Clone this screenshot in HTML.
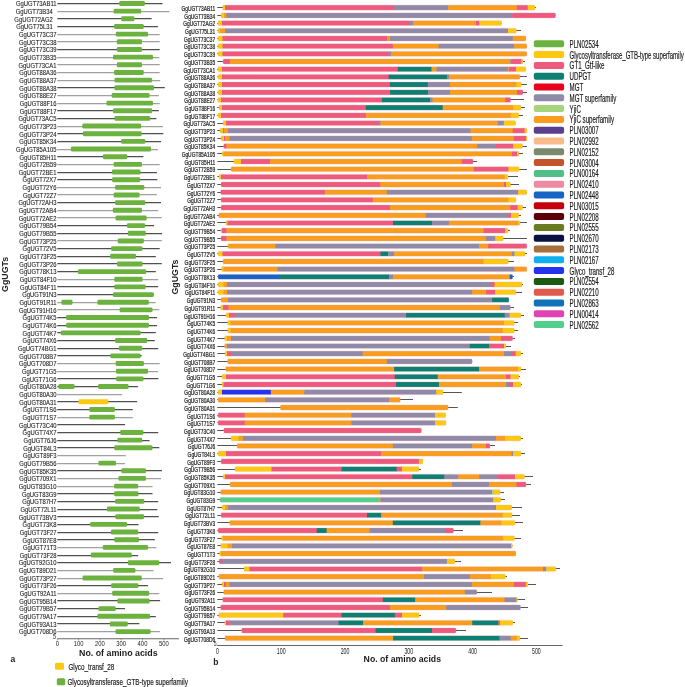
<!DOCTYPE html><html><head><meta charset="utf-8"><style>html,body{margin:0;padding:0;background:#fff}svg{display:block}</style></head><body>
<svg width="685" height="687" viewBox="0 0 685 687" font-family="'Liberation Sans', Arial, sans-serif">
<g id="left">
<line x1="57.3" y1="3.5" x2="162.5" y2="3.5" stroke="#505050" stroke-width="1.25"/>
<line x1="57.3" y1="11.5" x2="169.4" y2="11.5" stroke="#a0a0a0" stroke-width="1.25"/>
<line x1="57.3" y1="18.5" x2="151.6" y2="18.5" stroke="#505050" stroke-width="1.25"/>
<line x1="57.3" y1="26.5" x2="157.9" y2="26.5" stroke="#505050" stroke-width="1.25"/>
<line x1="57.3" y1="34.5" x2="159.7" y2="34.5" stroke="#a0a0a0" stroke-width="1.25"/>
<line x1="57.3" y1="41.5" x2="159.7" y2="41.5" stroke="#a0a0a0" stroke-width="1.25"/>
<line x1="57.3" y1="49.5" x2="159.7" y2="49.5" stroke="#505050" stroke-width="1.25"/>
<line x1="57.3" y1="57.5" x2="159.3" y2="57.5" stroke="#a0a0a0" stroke-width="1.25"/>
<line x1="57.3" y1="64.5" x2="159.7" y2="64.5" stroke="#a0a0a0" stroke-width="1.25"/>
<line x1="57.3" y1="72.5" x2="159.7" y2="72.5" stroke="#a0a0a0" stroke-width="1.25"/>
<line x1="57.3" y1="80.5" x2="160.2" y2="80.5" stroke="#a0a0a0" stroke-width="1.25"/>
<line x1="57.3" y1="87.5" x2="164.8" y2="87.5" stroke="#505050" stroke-width="1.25"/>
<line x1="57.3" y1="95.5" x2="158.8" y2="95.5" stroke="#a0a0a0" stroke-width="1.25"/>
<line x1="57.3" y1="103.5" x2="159.7" y2="103.5" stroke="#a0a0a0" stroke-width="1.25"/>
<line x1="57.3" y1="110.5" x2="158.8" y2="110.5" stroke="#505050" stroke-width="1.25"/>
<line x1="57.3" y1="118.5" x2="156.4" y2="118.5" stroke="#505050" stroke-width="1.25"/>
<line x1="57.3" y1="126.5" x2="162.9" y2="126.5" stroke="#a0a0a0" stroke-width="1.25"/>
<line x1="57.3" y1="133.5" x2="163.3" y2="133.5" stroke="#505050" stroke-width="1.25"/>
<line x1="57.3" y1="141.5" x2="161" y2="141.5" stroke="#505050" stroke-width="1.25"/>
<line x1="57.3" y1="149.5" x2="158" y2="149.5" stroke="#a0a0a0" stroke-width="1.25"/>
<line x1="57.3" y1="156.5" x2="143.4" y2="156.5" stroke="#505050" stroke-width="1.25"/>
<line x1="57.3" y1="164.5" x2="159.7" y2="164.5" stroke="#a0a0a0" stroke-width="1.25"/>
<line x1="57.3" y1="172.5" x2="156.9" y2="172.5" stroke="#505050" stroke-width="1.25"/>
<line x1="57.3" y1="179.5" x2="157.3" y2="179.5" stroke="#505050" stroke-width="1.25"/>
<line x1="57.3" y1="187.5" x2="161" y2="187.5" stroke="#a0a0a0" stroke-width="1.25"/>
<line x1="57.3" y1="194.5" x2="156.9" y2="194.5" stroke="#a0a0a0" stroke-width="1.25"/>
<line x1="57.3" y1="202.5" x2="161" y2="202.5" stroke="#505050" stroke-width="1.25"/>
<line x1="57.3" y1="210.5" x2="158.2" y2="210.5" stroke="#a0a0a0" stroke-width="1.25"/>
<line x1="57.3" y1="217.5" x2="161.8" y2="217.5" stroke="#a0a0a0" stroke-width="1.25"/>
<line x1="57.3" y1="225.5" x2="154" y2="225.5" stroke="#505050" stroke-width="1.25"/>
<line x1="57.3" y1="233.5" x2="162" y2="233.5" stroke="#505050" stroke-width="1.25"/>
<line x1="57.3" y1="240.5" x2="161.8" y2="240.5" stroke="#a0a0a0" stroke-width="1.25"/>
<line x1="57.3" y1="248.5" x2="159.7" y2="248.5" stroke="#505050" stroke-width="1.25"/>
<line x1="57.3" y1="256.5" x2="155.8" y2="256.5" stroke="#505050" stroke-width="1.25"/>
<line x1="57.3" y1="263.5" x2="161.8" y2="263.5" stroke="#505050" stroke-width="1.25"/>
<line x1="57.3" y1="271.5" x2="155.8" y2="271.5" stroke="#505050" stroke-width="1.25"/>
<line x1="57.3" y1="279.5" x2="158.2" y2="279.5" stroke="#a0a0a0" stroke-width="1.25"/>
<line x1="57.3" y1="286.5" x2="158.2" y2="286.5" stroke="#505050" stroke-width="1.25"/>
<line x1="57.3" y1="294.5" x2="153.8" y2="294.5" stroke="#505050" stroke-width="1.25"/>
<line x1="57.3" y1="302.5" x2="155.8" y2="302.5" stroke="#a0a0a0" stroke-width="1.25"/>
<line x1="57.3" y1="309.5" x2="159.3" y2="309.5" stroke="#a0a0a0" stroke-width="1.25"/>
<line x1="57.3" y1="317.5" x2="157" y2="317.5" stroke="#505050" stroke-width="1.25"/>
<line x1="57.3" y1="325.5" x2="157" y2="325.5" stroke="#505050" stroke-width="1.25"/>
<line x1="57.3" y1="332.5" x2="155.8" y2="332.5" stroke="#505050" stroke-width="1.25"/>
<line x1="57.3" y1="340.5" x2="154.8" y2="340.5" stroke="#505050" stroke-width="1.25"/>
<line x1="57.3" y1="348.5" x2="158.2" y2="348.5" stroke="#505050" stroke-width="1.25"/>
<line x1="57.3" y1="355.5" x2="141.8" y2="355.5" stroke="#505050" stroke-width="1.25"/>
<line x1="57.3" y1="363.5" x2="159.7" y2="363.5" stroke="#a0a0a0" stroke-width="1.25"/>
<line x1="57.3" y1="371.5" x2="158" y2="371.5" stroke="#a0a0a0" stroke-width="1.25"/>
<line x1="57.3" y1="378.5" x2="158.4" y2="378.5" stroke="#505050" stroke-width="1.25"/>
<line x1="57.3" y1="386.5" x2="138.1" y2="386.5" stroke="#505050" stroke-width="1.25"/>
<line x1="57.3" y1="394.5" x2="122.1" y2="394.5" stroke="#a0a0a0" stroke-width="1.25"/>
<line x1="57.3" y1="401.5" x2="137.2" y2="401.5" stroke="#505050" stroke-width="1.25"/>
<line x1="57.3" y1="409.5" x2="132.8" y2="409.5" stroke="#505050" stroke-width="1.25"/>
<line x1="57.3" y1="417.5" x2="132.8" y2="417.5" stroke="#a0a0a0" stroke-width="1.25"/>
<line x1="57.3" y1="424.5" x2="125.1" y2="424.5" stroke="#505050" stroke-width="1.25"/>
<line x1="57.3" y1="432.5" x2="158.2" y2="432.5" stroke="#505050" stroke-width="1.25"/>
<line x1="57.3" y1="440.5" x2="149.6" y2="440.5" stroke="#505050" stroke-width="1.25"/>
<line x1="57.3" y1="447.5" x2="159.3" y2="447.5" stroke="#505050" stroke-width="1.25"/>
<line x1="57.3" y1="455.5" x2="125.7" y2="455.5" stroke="#a0a0a0" stroke-width="1.25"/>
<line x1="57.3" y1="463.5" x2="125.1" y2="463.5" stroke="#a0a0a0" stroke-width="1.25"/>
<line x1="57.3" y1="470.5" x2="162" y2="470.5" stroke="#505050" stroke-width="1.25"/>
<line x1="57.3" y1="478.5" x2="161" y2="478.5" stroke="#a0a0a0" stroke-width="1.25"/>
<line x1="57.3" y1="486.5" x2="152.5" y2="486.5" stroke="#a0a0a0" stroke-width="1.25"/>
<line x1="57.3" y1="493.5" x2="152.5" y2="493.5" stroke="#505050" stroke-width="1.25"/>
<line x1="57.3" y1="501.5" x2="158.2" y2="501.5" stroke="#505050" stroke-width="1.25"/>
<line x1="57.3" y1="509.5" x2="157.3" y2="509.5" stroke="#505050" stroke-width="1.25"/>
<line x1="57.3" y1="516.5" x2="158.8" y2="516.5" stroke="#505050" stroke-width="1.25"/>
<line x1="57.3" y1="524.5" x2="138.6" y2="524.5" stroke="#505050" stroke-width="1.25"/>
<line x1="57.3" y1="532.5" x2="158.2" y2="532.5" stroke="#505050" stroke-width="1.25"/>
<line x1="57.3" y1="539.5" x2="154.8" y2="539.5" stroke="#505050" stroke-width="1.25"/>
<line x1="57.3" y1="547.5" x2="156.4" y2="547.5" stroke="#a0a0a0" stroke-width="1.25"/>
<line x1="57.3" y1="555.5" x2="138.2" y2="555.5" stroke="#505050" stroke-width="1.25"/>
<line x1="57.3" y1="562.5" x2="171" y2="562.5" stroke="#505050" stroke-width="1.25"/>
<line x1="57.3" y1="570.5" x2="153.5" y2="570.5" stroke="#a0a0a0" stroke-width="1.25"/>
<line x1="57.3" y1="578.5" x2="163.1" y2="578.5" stroke="#a0a0a0" stroke-width="1.25"/>
<line x1="57.3" y1="585.5" x2="148" y2="585.5" stroke="#505050" stroke-width="1.25"/>
<line x1="57.3" y1="593.5" x2="159.3" y2="593.5" stroke="#a0a0a0" stroke-width="1.25"/>
<line x1="57.3" y1="600.5" x2="160.1" y2="600.5" stroke="#505050" stroke-width="1.25"/>
<line x1="57.3" y1="608.5" x2="125.1" y2="608.5" stroke="#505050" stroke-width="1.25"/>
<line x1="57.3" y1="616.5" x2="155.8" y2="616.5" stroke="#505050" stroke-width="1.25"/>
<line x1="57.3" y1="623.5" x2="139.4" y2="623.5" stroke="#505050" stroke-width="1.25"/>
<line x1="57.3" y1="631.5" x2="160.1" y2="631.5" stroke="#a0a0a0" stroke-width="1.25"/>
<rect x="119.3" y="1.05" width="25.6" height="4.9" rx="1.3" fill="#6cb23f"/>
<rect x="113.6" y="8.71" width="27.5" height="4.9" rx="1.3" fill="#6cb23f"/>
<rect x="121.2" y="16.37" width="13.2" height="4.9" rx="1.3" fill="#6cb23f"/>
<rect x="114.1" y="24.03" width="29.6" height="4.9" rx="1.3" fill="#6cb23f"/>
<rect x="115.8" y="31.69" width="32.3" height="4.9" rx="1.3" fill="#6cb23f"/>
<rect x="116.8" y="39.35" width="25.2" height="4.9" rx="1.3" fill="#6cb23f"/>
<rect x="116.8" y="47.01" width="25.2" height="4.9" rx="1.3" fill="#6cb23f"/>
<rect x="113" y="54.67" width="40" height="4.9" rx="1.3" fill="#6cb23f"/>
<rect x="116.8" y="62.33" width="25.2" height="4.9" rx="1.3" fill="#6cb23f"/>
<rect x="114" y="69.99" width="29.7" height="4.9" rx="1.3" fill="#6cb23f"/>
<rect x="114.5" y="77.65" width="37.5" height="4.9" rx="1.3" fill="#6cb23f"/>
<rect x="114.5" y="85.31" width="39.5" height="4.9" rx="1.3" fill="#6cb23f"/>
<rect x="111.7" y="92.97" width="37.9" height="4.9" rx="1.3" fill="#6cb23f"/>
<rect x="106.4" y="100.63" width="46.6" height="4.9" rx="1.3" fill="#6cb23f"/>
<rect x="113" y="108.29" width="39.1" height="4.9" rx="1.3" fill="#6cb23f"/>
<rect x="114.5" y="115.95" width="35.7" height="4.9" rx="1.3" fill="#6cb23f"/>
<rect x="82.3" y="123.61" width="58.8" height="4.9" rx="1.3" fill="#6cb23f"/>
<rect x="82.8" y="131.27" width="58.9" height="4.9" rx="1.3" fill="#6cb23f"/>
<rect x="121.2" y="138.93" width="24.1" height="4.9" rx="1.3" fill="#6cb23f"/>
<rect x="70.9" y="146.59" width="80.1" height="4.9" rx="1.3" fill="#6cb23f"/>
<rect x="102.8" y="154.25" width="24.4" height="4.9" rx="1.3" fill="#6cb23f"/>
<rect x="113.6" y="161.91" width="28.4" height="4.9" rx="1.3" fill="#6cb23f"/>
<rect x="112" y="169.57" width="28.5" height="4.9" rx="1.3" fill="#6cb23f"/>
<rect x="112" y="177.23" width="28.2" height="4.9" rx="1.3" fill="#6cb23f"/>
<rect x="115.1" y="184.89" width="29.2" height="4.9" rx="1.3" fill="#6cb23f"/>
<rect x="113.6" y="192.55" width="26" height="4.9" rx="1.3" fill="#6cb23f"/>
<rect x="115" y="200.21" width="30.3" height="4.9" rx="1.3" fill="#6cb23f"/>
<rect x="112.8" y="207.87" width="29.2" height="4.9" rx="1.3" fill="#6cb23f"/>
<rect x="115.5" y="215.53" width="31.1" height="4.9" rx="1.3" fill="#6cb23f"/>
<rect x="126.9" y="223.19" width="18.2" height="4.9" rx="1.3" fill="#6cb23f"/>
<rect x="127.8" y="230.85" width="17.9" height="4.9" rx="1.3" fill="#6cb23f"/>
<rect x="117.7" y="238.51" width="26.2" height="4.9" rx="1.3" fill="#6cb23f"/>
<rect x="111.1" y="246.17" width="31.3" height="4.9" rx="1.3" fill="#6cb23f"/>
<rect x="110.2" y="253.83" width="25.8" height="4.9" rx="1.3" fill="#6cb23f"/>
<rect x="117" y="261.49" width="25.6" height="4.9" rx="1.3" fill="#6cb23f"/>
<rect x="77.9" y="269.15" width="68.3" height="4.9" rx="1.3" fill="#6cb23f"/>
<rect x="114.3" y="276.81" width="28.3" height="4.9" rx="1.3" fill="#6cb23f"/>
<rect x="114.3" y="284.47" width="31.4" height="4.9" rx="1.3" fill="#6cb23f"/>
<rect x="113" y="292.13" width="40.8" height="4.9" rx="1.3" fill="#6cb23f"/>
<rect x="61.4" y="299.79" width="11.1" height="4.9" rx="1.3" fill="#6cb23f"/>
<rect x="97.4" y="299.79" width="51.4" height="4.9" rx="1.3" fill="#6cb23f"/>
<rect x="119.6" y="307.45" width="32.9" height="4.9" rx="1.3" fill="#6cb23f"/>
<rect x="66.1" y="315.11" width="82.9" height="4.9" rx="1.3" fill="#6cb23f"/>
<rect x="66.1" y="322.77" width="82.9" height="4.9" rx="1.3" fill="#6cb23f"/>
<rect x="60.8" y="330.43" width="79.9" height="4.9" rx="1.3" fill="#6cb23f"/>
<rect x="115.1" y="338.09" width="32.1" height="4.9" rx="1.3" fill="#6cb23f"/>
<rect x="118.9" y="345.75" width="23.3" height="4.9" rx="1.3" fill="#6cb23f"/>
<rect x="110.3" y="353.41" width="30.4" height="4.9" rx="1.3" fill="#6cb23f"/>
<rect x="115.7" y="361.07" width="28.2" height="4.9" rx="1.3" fill="#6cb23f"/>
<rect x="115.9" y="368.73" width="32.2" height="4.9" rx="1.3" fill="#6cb23f"/>
<rect x="116.2" y="376.39" width="27.3" height="4.9" rx="1.3" fill="#6cb23f"/>
<rect x="58.4" y="384.05" width="16.1" height="4.9" rx="1.3" fill="#6cb23f"/>
<rect x="98.2" y="384.05" width="30.3" height="4.9" rx="1.3" fill="#6cb23f"/>
<rect x="78.5" y="399.37" width="29.8" height="4.9" rx="1.3" fill="#fcc90e"/>
<rect x="89.3" y="407.03" width="25.6" height="4.9" rx="1.3" fill="#6cb23f"/>
<rect x="89.3" y="414.69" width="25.6" height="4.9" rx="1.3" fill="#6cb23f"/>
<rect x="120.2" y="430.01" width="23.2" height="4.9" rx="1.3" fill="#6cb23f"/>
<rect x="117.4" y="437.67" width="24.8" height="4.9" rx="1.3" fill="#6cb23f"/>
<rect x="114.3" y="445.33" width="38.2" height="4.9" rx="1.3" fill="#6cb23f"/>
<rect x="98.4" y="460.65" width="17.6" height="4.9" rx="1.3" fill="#6cb23f"/>
<rect x="121.4" y="468.31" width="24.6" height="4.9" rx="1.3" fill="#6cb23f"/>
<rect x="118.5" y="475.97" width="27.5" height="4.9" rx="1.3" fill="#6cb23f"/>
<rect x="114.1" y="483.63" width="24.1" height="4.9" rx="1.3" fill="#6cb23f"/>
<rect x="114.1" y="491.29" width="24.4" height="4.9" rx="1.3" fill="#6cb23f"/>
<rect x="115.1" y="498.95" width="29.2" height="4.9" rx="1.3" fill="#6cb23f"/>
<rect x="106.9" y="506.61" width="32.9" height="4.9" rx="1.3" fill="#6cb23f"/>
<rect x="115.3" y="514.27" width="28.8" height="4.9" rx="1.3" fill="#6cb23f"/>
<rect x="90.2" y="521.93" width="36.8" height="4.9" rx="1.3" fill="#6cb23f"/>
<rect x="110.9" y="529.59" width="27.3" height="4.9" rx="1.3" fill="#6cb23f"/>
<rect x="114.3" y="537.25" width="24.8" height="4.9" rx="1.3" fill="#6cb23f"/>
<rect x="102.8" y="544.91" width="45.3" height="4.9" rx="1.3" fill="#6cb23f"/>
<rect x="90.8" y="552.57" width="41" height="4.9" rx="1.3" fill="#6cb23f"/>
<rect x="127.8" y="560.23" width="31.5" height="4.9" rx="1.3" fill="#6cb23f"/>
<rect x="113.2" y="567.89" width="22.2" height="4.9" rx="1.3" fill="#6cb23f"/>
<rect x="82.6" y="575.55" width="59.1" height="4.9" rx="1.3" fill="#6cb23f"/>
<rect x="111.1" y="583.21" width="27.3" height="4.9" rx="1.3" fill="#6cb23f"/>
<rect x="112.2" y="590.87" width="37" height="4.9" rx="1.3" fill="#6cb23f"/>
<rect x="117.4" y="598.53" width="32.2" height="4.9" rx="1.3" fill="#6cb23f"/>
<rect x="98.4" y="606.19" width="17.3" height="4.9" rx="1.3" fill="#6cb23f"/>
<rect x="97.4" y="613.85" width="52.6" height="4.9" rx="1.3" fill="#6cb23f"/>
<rect x="109.8" y="621.51" width="18" height="4.9" rx="1.3" fill="#6cb23f"/>
<rect x="115.5" y="629.17" width="35.1" height="4.9" rx="1.3" fill="#6cb23f"/>
<g font-size="6.6" fill="#222" stroke="#222" stroke-width="0.1" text-anchor="end">
<text transform="translate(56.5,5.7) scale(0.89,1)">GgUGT73AB11</text>
<text transform="translate(52.8,13.96) scale(0.89,1)">GgUGT73B34</text>
<text transform="translate(52.8,21.62) scale(0.89,1)">GgUGT72AG2</text>
<text transform="translate(52.8,29.28) scale(0.89,1)">GgUGT75L31</text>
<text transform="translate(56.5,36.94) scale(0.89,1)">GgUGT73C37</text>
<text transform="translate(56.5,44.6) scale(0.89,1)">GgUGT73C38</text>
<text transform="translate(56.5,52.26) scale(0.89,1)">GgUGT73C39</text>
<text transform="translate(56.5,59.92) scale(0.89,1)">GgUGT73B35</text>
<text transform="translate(56.5,67.58) scale(0.89,1)">GgUGT73CA1</text>
<text transform="translate(56.5,75.24) scale(0.89,1)">GgUGT88A36</text>
<text transform="translate(56.5,82.9) scale(0.89,1)">GgUGT88A37</text>
<text transform="translate(56.5,90.56) scale(0.89,1)">GgUGT88A38</text>
<text transform="translate(56.5,98.22) scale(0.89,1)">GgUGT88E27</text>
<text transform="translate(56.5,105.88) scale(0.89,1)">GgUGT88F16</text>
<text transform="translate(56.5,113.54) scale(0.89,1)">GgUGT88F17</text>
<text transform="translate(56.5,121.2) scale(0.89,1)">GgUGT73AC5</text>
<text transform="translate(56.5,128.86) scale(0.89,1)">GgUGT73P23</text>
<text transform="translate(56.5,136.52) scale(0.89,1)">GgUGT73P24</text>
<text transform="translate(56.5,144.18) scale(0.89,1)">GgUGT85K34</text>
<text transform="translate(56.5,151.84) scale(0.89,1)">GgUGT85A105</text>
<text transform="translate(56.5,159.5) scale(0.89,1)">GgUGT85H11</text>
<text transform="translate(56.5,167.16) scale(0.89,1)">GgUGT72B59</text>
<text transform="translate(56.5,174.82) scale(0.89,1)">GgUGT72BE1</text>
<text transform="translate(56.5,182.48) scale(0.89,1)">GgUGT72X7</text>
<text transform="translate(56.5,190.14) scale(0.89,1)">GgUGT72Y6</text>
<text transform="translate(56.5,197.8) scale(0.89,1)">GgUGT72Z7</text>
<text transform="translate(56.5,205.46) scale(0.89,1)">GgUGT72AH3</text>
<text transform="translate(56.5,213.12) scale(0.89,1)">GgUGT72AB4</text>
<text transform="translate(56.5,220.78) scale(0.89,1)">GgUGT72AE2</text>
<text transform="translate(56.5,228.44) scale(0.89,1)">GgUGT79B54</text>
<text transform="translate(56.5,236.1) scale(0.89,1)">GgUGT79B55</text>
<text transform="translate(56.5,243.76) scale(0.89,1)">GgUGT73P25</text>
<text transform="translate(56.5,251.42) scale(0.89,1)">GgUGT72V5</text>
<text transform="translate(56.5,259.08) scale(0.89,1)">GgUGT73F25</text>
<text transform="translate(56.5,266.74) scale(0.89,1)">GgUGT73P26</text>
<text transform="translate(56.5,274.4) scale(0.89,1)">GgUGT78K13</text>
<text transform="translate(56.5,282.06) scale(0.89,1)">GgUGT84F10</text>
<text transform="translate(56.5,289.72) scale(0.89,1)">GgUGT84F11</text>
<text transform="translate(56.5,297.38) scale(0.89,1)">GgUGT91N3</text>
<text transform="translate(56.5,305.04) scale(0.89,1)">GgUGT91R11</text>
<text transform="translate(56.5,312.7) scale(0.89,1)">GgUGT91H16</text>
<text transform="translate(56.5,320.36) scale(0.89,1)">GgUGT74K5</text>
<text transform="translate(56.5,328.02) scale(0.89,1)">GgUGT74K6</text>
<text transform="translate(56.5,335.68) scale(0.89,1)">GgUGT74K7</text>
<text transform="translate(56.5,343.34) scale(0.89,1)">GgUGT74X6</text>
<text transform="translate(56.5,351) scale(0.89,1)">GgUGT74BG1</text>
<text transform="translate(56.5,358.66) scale(0.89,1)">GgUGT708B7</text>
<text transform="translate(56.5,366.32) scale(0.89,1)">GgUGT708D7</text>
<text transform="translate(56.5,373.98) scale(0.89,1)">GgUGT71G5</text>
<text transform="translate(56.5,381.64) scale(0.89,1)">GgUGT71G6</text>
<text transform="translate(56.5,389.3) scale(0.89,1)">GgUGT80A28</text>
<text transform="translate(56.5,396.96) scale(0.89,1)">GgUGT80A30</text>
<text transform="translate(56.5,404.62) scale(0.89,1)">GgUGT80A31</text>
<text transform="translate(56.5,412.28) scale(0.89,1)">GgUGT71S6</text>
<text transform="translate(56.5,419.94) scale(0.89,1)">GgUGT71S7</text>
<text transform="translate(56.5,427.6) scale(0.89,1)">GgUGT73C40</text>
<text transform="translate(56.5,435.26) scale(0.89,1)">GgUGT74X7</text>
<text transform="translate(56.5,442.92) scale(0.89,1)">GgUGT76J6</text>
<text transform="translate(56.5,450.58) scale(0.89,1)">GgUGT84L3</text>
<text transform="translate(56.5,458.24) scale(0.89,1)">GgUGT89F3</text>
<text transform="translate(56.5,465.9) scale(0.89,1)">GgUGT79B56</text>
<text transform="translate(56.5,473.56) scale(0.89,1)">GgUGT85K35</text>
<text transform="translate(56.5,481.22) scale(0.89,1)">GgUGT709X1</text>
<text transform="translate(56.5,488.88) scale(0.89,1)">GgUGT83G10</text>
<text transform="translate(56.5,496.54) scale(0.89,1)">GgUGT83G9</text>
<text transform="translate(56.5,504.2) scale(0.89,1)">GgUGT87H7</text>
<text transform="translate(56.5,511.86) scale(0.89,1)">GgUGT72L11</text>
<text transform="translate(56.5,519.52) scale(0.89,1)">GgUGT73BV3</text>
<text transform="translate(56.5,527.18) scale(0.89,1)">GgUGT73K8</text>
<text transform="translate(56.5,534.84) scale(0.89,1)">GgUGT73F27</text>
<text transform="translate(56.5,542.5) scale(0.89,1)">GgUGT87E8</text>
<text transform="translate(56.5,550.16) scale(0.89,1)">GgUGT71T3</text>
<text transform="translate(56.5,557.82) scale(0.89,1)">GgUGT73F28</text>
<text transform="translate(56.5,565.48) scale(0.89,1)">GgUGT92G10</text>
<text transform="translate(56.5,573.14) scale(0.89,1)">GgUGT89D21</text>
<text transform="translate(56.5,580.8) scale(0.89,1)">GgUGT73P27</text>
<text transform="translate(56.5,588.46) scale(0.89,1)">GgUGT73F26</text>
<text transform="translate(56.5,596.12) scale(0.89,1)">GgUGT92A11</text>
<text transform="translate(56.5,603.78) scale(0.89,1)">GgUGT95B14</text>
<text transform="translate(56.5,611.44) scale(0.89,1)">GgUGT79B57</text>
<text transform="translate(56.5,619.1) scale(0.89,1)">GgUGT79A17</text>
<text transform="translate(56.5,626.76) scale(0.89,1)">GgUGT93A13</text>
<text transform="translate(56.5,634.42) scale(0.89,1)">GgUGT708D6</text>
</g>
<text transform="translate(56,638.6) scale(0.85,1)" font-size="7" fill="#333" text-anchor="end">5</text>
<line x1="57.3" y1="638.8" x2="179" y2="638.8" stroke="#666" stroke-width="1.1"/>
<line x1="57.3" y1="638.8" x2="57.3" y2="640.6" stroke="#666" stroke-width="0.6"/>
<line x1="78.6" y1="638.8" x2="78.6" y2="640.6" stroke="#666" stroke-width="0.6"/>
<line x1="99.9" y1="638.8" x2="99.9" y2="640.6" stroke="#666" stroke-width="0.6"/>
<line x1="121.2" y1="638.8" x2="121.2" y2="640.6" stroke="#666" stroke-width="0.6"/>
<line x1="142.5" y1="638.8" x2="142.5" y2="640.6" stroke="#666" stroke-width="0.6"/>
<line x1="163.8" y1="638.8" x2="163.8" y2="640.6" stroke="#666" stroke-width="0.6"/>
<g font-size="7" fill="#222" text-anchor="middle">
<text transform="translate(57.3,646.3) scale(0.84,1)">0</text>
<text transform="translate(78.6,646.3) scale(0.84,1)">100</text>
<text transform="translate(99.9,646.3) scale(0.84,1)">200</text>
<text transform="translate(121.2,646.3) scale(0.84,1)">300</text>
<text transform="translate(142.5,646.3) scale(0.84,1)">400</text>
<text transform="translate(163.8,646.3) scale(0.84,1)">500</text>
</g>
<text x="79" y="656" font-size="8.6" font-weight="bold" textLength="78.6" lengthAdjust="spacingAndGlyphs" fill="#1c1c1c">No. of amino acids</text>
<text transform="translate(7.6,274.4) rotate(-90)" font-size="8.8" font-weight="bold" text-anchor="middle" fill="#222">GgUGTs</text>
<text x="10.4" y="661.6" font-size="8.5" font-weight="bold" fill="#222">a</text>
<rect x="55" y="662.8" width="9" height="7" rx="1.5" fill="#fcc90e"/>
<rect x="56.8" y="678.2" width="8.4" height="7" rx="1.5" fill="#6cb23f"/>
<text transform="translate(68.4,669.6) scale(0.71,1)" font-size="8.9" fill="#1c1c1c" stroke="#1c1c1c" stroke-width="0.18">Glyco_transf_28</text>
<text transform="translate(67.4,684.6) scale(0.713,1)" font-size="8.9" fill="#1c1c1c" stroke="#1c1c1c" stroke-width="0.18">Glycosyltransferase_GTB-type superfamily</text>
</g>
<g id="right">
<line x1="217.3" y1="7.5" x2="536" y2="7.5" stroke="#555" stroke-width="1"/>
<clipPath id="c0"><rect x="222.4" y="5.1" width="312.6" height="5.2" rx="1.3"/></clipPath>
<g clip-path="url(#c0)">
<rect x="222.4" y="5.1" width="3" height="5.2" fill="#fcc90e"/>
<rect x="225" y="5.1" width="169.4" height="5.2" fill="#ee5a7e"/>
<rect x="394" y="5.1" width="54.6" height="5.2" fill="#8f8aa8"/>
<rect x="448.2" y="5.1" width="69.1" height="5.2" fill="#f89d1e"/>
<rect x="516.9" y="5.1" width="11.2" height="5.2" fill="#ee5a7e"/>
<rect x="527.7" y="5.1" width="7.7" height="5.2" fill="#fcc90e"/>
</g>
<rect x="222.4" y="5.1" width="312.6" height="5.2" rx="1.3" fill="none" stroke="#f2a6b0" stroke-opacity="0.55" stroke-width="0.5"/>
<line x1="217.3" y1="15.5" x2="555.6" y2="15.5" stroke="#555" stroke-width="1"/>
<clipPath id="c1"><rect x="221" y="12.79" width="334.6" height="5.2" rx="1.3"/></clipPath>
<g clip-path="url(#c1)">
<rect x="221" y="12.79" width="3.4" height="5.2" fill="#fcc90e"/>
<rect x="224" y="12.79" width="2.9" height="5.2" fill="#f89d1e"/>
<rect x="226.5" y="12.79" width="286.2" height="5.2" fill="#8f8aa8"/>
<rect x="512.3" y="12.79" width="43.7" height="5.2" fill="#ee5a7e"/>
</g>
<rect x="221" y="12.79" width="334.6" height="5.2" rx="1.3" fill="none" stroke="#f2a6b0" stroke-opacity="0.55" stroke-width="0.5"/>
<line x1="217.3" y1="23.5" x2="501.6" y2="23.5" stroke="#555" stroke-width="1"/>
<clipPath id="c2"><rect x="218" y="20.48" width="283.6" height="5.2" rx="1.3"/></clipPath>
<g clip-path="url(#c2)">
<rect x="218" y="20.48" width="4.4" height="5.2" fill="#fcc90e"/>
<rect x="222" y="20.48" width="188.6" height="5.2" fill="#ee5a7e"/>
<rect x="410.2" y="20.48" width="3.2" height="5.2" fill="#8f8aa8"/>
<rect x="413" y="20.48" width="63.4" height="5.2" fill="#f89d1e"/>
<rect x="476" y="20.48" width="3.7" height="5.2" fill="#ee5a7e"/>
<rect x="479.3" y="20.48" width="22.7" height="5.2" fill="#fcc90e"/>
</g>
<rect x="218" y="20.48" width="283.6" height="5.2" rx="1.3" fill="none" stroke="#f2a6b0" stroke-opacity="0.55" stroke-width="0.5"/>
<line x1="217.3" y1="30.5" x2="521" y2="30.5" stroke="#555" stroke-width="1"/>
<clipPath id="c3"><rect x="218" y="28.17" width="298.4" height="5.2" rx="1.3"/></clipPath>
<g clip-path="url(#c3)">
<rect x="218" y="28.17" width="2.4" height="5.2" fill="#fcc90e"/>
<rect x="220" y="28.17" width="5.4" height="5.2" fill="#f89d1e"/>
<rect x="225" y="28.17" width="283.4" height="5.2" fill="#8f8aa8"/>
<rect x="508" y="28.17" width="8.8" height="5.2" fill="#fcc90e"/>
</g>
<rect x="218" y="28.17" width="298.4" height="5.2" rx="1.3" fill="none" stroke="#f2a6b0" stroke-opacity="0.55" stroke-width="0.5"/>
<line x1="217.3" y1="38.5" x2="526" y2="38.5" stroke="#555" stroke-width="1"/>
<clipPath id="c4"><rect x="218" y="35.86" width="308" height="5.2" rx="1.3"/></clipPath>
<g clip-path="url(#c4)">
<rect x="218" y="35.86" width="4.9" height="5.2" fill="#fcc90e"/>
<rect x="222.5" y="35.86" width="164.8" height="5.2" fill="#ee5a7e"/>
<rect x="386.9" y="35.86" width="3.5" height="5.2" fill="#f89d1e"/>
<rect x="390" y="35.86" width="123.2" height="5.2" fill="#8f8aa8"/>
<rect x="512.8" y="35.86" width="13.6" height="5.2" fill="#f89d1e"/>
</g>
<rect x="218" y="35.86" width="308" height="5.2" rx="1.3" fill="none" stroke="#f2a6b0" stroke-opacity="0.55" stroke-width="0.5"/>
<line x1="217.3" y1="46.5" x2="526.8" y2="46.5" stroke="#555" stroke-width="1"/>
<clipPath id="c5"><rect x="218" y="43.55" width="308.8" height="5.2" rx="1.3"/></clipPath>
<g clip-path="url(#c5)">
<rect x="218" y="43.55" width="4.9" height="5.2" fill="#fcc90e"/>
<rect x="222.5" y="43.55" width="170.7" height="5.2" fill="#ee5a7e"/>
<rect x="392.8" y="43.55" width="46.3" height="5.2" fill="#f89d1e"/>
<rect x="438.7" y="43.55" width="75.9" height="5.2" fill="#8f8aa8"/>
<rect x="514.2" y="43.55" width="13" height="5.2" fill="#f89d1e"/>
</g>
<rect x="218" y="43.55" width="308.8" height="5.2" rx="1.3" fill="none" stroke="#f2a6b0" stroke-opacity="0.55" stroke-width="0.5"/>
<line x1="217.3" y1="53.5" x2="526.8" y2="53.5" stroke="#555" stroke-width="1"/>
<clipPath id="c6"><rect x="218" y="51.23" width="308.8" height="5.2" rx="1.3"/></clipPath>
<g clip-path="url(#c6)">
<rect x="218" y="51.23" width="4.9" height="5.2" fill="#fcc90e"/>
<rect x="222.5" y="51.23" width="166.5" height="5.2" fill="#ee5a7e"/>
<rect x="388.6" y="51.23" width="2.8" height="5.2" fill="#8f8aa8"/>
<rect x="391" y="51.23" width="136.2" height="5.2" fill="#f89d1e"/>
</g>
<rect x="218" y="51.23" width="308.8" height="5.2" rx="1.3" fill="none" stroke="#f2a6b0" stroke-opacity="0.55" stroke-width="0.5"/>
<line x1="217.3" y1="61.5" x2="525" y2="61.5" stroke="#555" stroke-width="1"/>
<clipPath id="c7"><rect x="223" y="58.92" width="300" height="5.2" rx="1.3"/></clipPath>
<g clip-path="url(#c7)">
<rect x="223" y="58.92" width="6.4" height="5.2" fill="#ee5a7e"/>
<rect x="229" y="58.92" width="1.4" height="5.2" fill="#8f8aa8"/>
<rect x="230" y="58.92" width="280.6" height="5.2" fill="#f89d1e"/>
<rect x="510.2" y="58.92" width="2.2" height="5.2" fill="#8f8aa8"/>
<rect x="512" y="58.92" width="9.8" height="5.2" fill="#ee5a7e"/>
<rect x="521.4" y="58.92" width="2" height="5.2" fill="#fcc90e"/>
</g>
<rect x="223" y="58.92" width="300" height="5.2" rx="1.3" fill="none" stroke="#f2a6b0" stroke-opacity="0.55" stroke-width="0.5"/>
<line x1="217.3" y1="69.5" x2="525.8" y2="69.5" stroke="#555" stroke-width="1"/>
<clipPath id="c8"><rect x="218" y="66.61" width="307.8" height="5.2" rx="1.3"/></clipPath>
<g clip-path="url(#c8)">
<rect x="218" y="66.61" width="4.4" height="5.2" fill="#fcc90e"/>
<rect x="222" y="66.61" width="176.2" height="5.2" fill="#ee5a7e"/>
<rect x="397.8" y="66.61" width="34.1" height="5.2" fill="#0e7f73"/>
<rect x="431.5" y="66.61" width="5.4" height="5.2" fill="#f89d1e"/>
<rect x="436.5" y="66.61" width="72.1" height="5.2" fill="#8f8aa8"/>
<rect x="508.2" y="66.61" width="1.2" height="5.2" fill="#f89d1e"/>
<rect x="509" y="66.61" width="7.3" height="5.2" fill="#ee5a7e"/>
<rect x="515.9" y="66.61" width="10.3" height="5.2" fill="#fcc90e"/>
</g>
<rect x="218" y="66.61" width="307.8" height="5.2" rx="1.3" fill="none" stroke="#f2a6b0" stroke-opacity="0.55" stroke-width="0.5"/>
<line x1="217.3" y1="76.5" x2="527" y2="76.5" stroke="#555" stroke-width="1"/>
<clipPath id="c9"><rect x="218" y="74.3" width="301.9" height="5.2" rx="1.3"/></clipPath>
<g clip-path="url(#c9)">
<rect x="218" y="74.3" width="4.4" height="5.2" fill="#fcc90e"/>
<rect x="222" y="74.3" width="167" height="5.2" fill="#ee5a7e"/>
<rect x="388.6" y="74.3" width="58.7" height="5.2" fill="#0e7f73"/>
<rect x="446.9" y="74.3" width="2.5" height="5.2" fill="#8f8aa8"/>
<rect x="449" y="74.3" width="71.3" height="5.2" fill="#f89d1e"/>
</g>
<rect x="218" y="74.3" width="301.9" height="5.2" rx="1.3" fill="none" stroke="#f2a6b0" stroke-opacity="0.55" stroke-width="0.5"/>
<line x1="217.3" y1="84.5" x2="527" y2="84.5" stroke="#555" stroke-width="1"/>
<clipPath id="c10"><rect x="218" y="81.99" width="303.4" height="5.2" rx="1.3"/></clipPath>
<g clip-path="url(#c10)">
<rect x="218" y="81.99" width="4.4" height="5.2" fill="#fcc90e"/>
<rect x="222" y="81.99" width="168.3" height="5.2" fill="#ee5a7e"/>
<rect x="389.9" y="81.99" width="38.3" height="5.2" fill="#0e7f73"/>
<rect x="427.8" y="81.99" width="22.5" height="5.2" fill="#8f8aa8"/>
<rect x="449.9" y="81.99" width="66.9" height="5.2" fill="#f89d1e"/>
<rect x="516.4" y="81.99" width="5.4" height="5.2" fill="#fcc90e"/>
</g>
<rect x="218" y="81.99" width="303.4" height="5.2" rx="1.3" fill="none" stroke="#f2a6b0" stroke-opacity="0.55" stroke-width="0.5"/>
<line x1="217.3" y1="92.5" x2="527" y2="92.5" stroke="#555" stroke-width="1"/>
<clipPath id="c11"><rect x="218" y="89.68" width="305" height="5.2" rx="1.3"/></clipPath>
<g clip-path="url(#c11)">
<rect x="218" y="89.68" width="4.4" height="5.2" fill="#fcc90e"/>
<rect x="222" y="89.68" width="168.4" height="5.2" fill="#ee5a7e"/>
<rect x="390" y="89.68" width="38.4" height="5.2" fill="#0e7f73"/>
<rect x="428" y="89.68" width="22.4" height="5.2" fill="#8f8aa8"/>
<rect x="450" y="89.68" width="67.4" height="5.2" fill="#f89d1e"/>
<rect x="517" y="89.68" width="6.4" height="5.2" fill="#ee5a7e"/>
</g>
<rect x="218" y="89.68" width="305" height="5.2" rx="1.3" fill="none" stroke="#f2a6b0" stroke-opacity="0.55" stroke-width="0.5"/>
<line x1="217.3" y1="99.5" x2="524" y2="99.5" stroke="#555" stroke-width="1"/>
<clipPath id="c12"><rect x="218" y="97.37" width="292.6" height="5.2" rx="1.3"/></clipPath>
<g clip-path="url(#c12)">
<rect x="218" y="97.37" width="3.4" height="5.2" fill="#fcc90e"/>
<rect x="221" y="97.37" width="161.3" height="5.2" fill="#ee5a7e"/>
<rect x="381.9" y="97.37" width="48.5" height="5.2" fill="#0e7f73"/>
<rect x="430" y="97.37" width="2.9" height="5.2" fill="#8f8aa8"/>
<rect x="432.5" y="97.37" width="73.1" height="5.2" fill="#f89d1e"/>
<rect x="505.2" y="97.37" width="5.8" height="5.2" fill="#ee5a7e"/>
</g>
<rect x="218" y="97.37" width="292.6" height="5.2" rx="1.3" fill="none" stroke="#f2a6b0" stroke-opacity="0.55" stroke-width="0.5"/>
<line x1="217.3" y1="107.5" x2="525" y2="107.5" stroke="#555" stroke-width="1"/>
<clipPath id="c13"><rect x="219" y="105.06" width="302" height="5.2" rx="1.3"/></clipPath>
<g clip-path="url(#c13)">
<rect x="219" y="105.06" width="3.4" height="5.2" fill="#fcc90e"/>
<rect x="222" y="105.06" width="144.2" height="5.2" fill="#ee5a7e"/>
<rect x="365.8" y="105.06" width="77.3" height="5.2" fill="#0e7f73"/>
<rect x="442.7" y="105.06" width="70.9" height="5.2" fill="#f89d1e"/>
<rect x="513.2" y="105.06" width="8.2" height="5.2" fill="#fcc90e"/>
</g>
<rect x="219" y="105.06" width="302" height="5.2" rx="1.3" fill="none" stroke="#f2a6b0" stroke-opacity="0.55" stroke-width="0.5"/>
<line x1="217.3" y1="115.5" x2="523" y2="115.5" stroke="#555" stroke-width="1"/>
<clipPath id="c14"><rect x="218" y="112.75" width="300.9" height="5.2" rx="1.3"/></clipPath>
<g clip-path="url(#c14)">
<rect x="218" y="112.75" width="3.4" height="5.2" fill="#fcc90e"/>
<rect x="221" y="112.75" width="145.2" height="5.2" fill="#ee5a7e"/>
<rect x="365.8" y="112.75" width="145.3" height="5.2" fill="#f89d1e"/>
<rect x="510.7" y="112.75" width="8.6" height="5.2" fill="#fcc90e"/>
</g>
<rect x="218" y="112.75" width="300.9" height="5.2" rx="1.3" fill="none" stroke="#f2a6b0" stroke-opacity="0.55" stroke-width="0.5"/>
<line x1="217.3" y1="123.5" x2="515.6" y2="123.5" stroke="#555" stroke-width="1"/>
<clipPath id="c15"><rect x="223" y="120.44" width="292.6" height="5.2" rx="1.3"/></clipPath>
<g clip-path="url(#c15)">
<rect x="223" y="120.44" width="3.4" height="5.2" fill="#fcc90e"/>
<rect x="226" y="120.44" width="152.9" height="5.2" fill="#ee5a7e"/>
<rect x="378.5" y="120.44" width="2.4" height="5.2" fill="#8f8aa8"/>
<rect x="380.5" y="120.44" width="117.7" height="5.2" fill="#f89d1e"/>
<rect x="497.8" y="120.44" width="6.4" height="5.2" fill="#8f8aa8"/>
<rect x="503.8" y="120.44" width="12.2" height="5.2" fill="#fcc90e"/>
</g>
<rect x="223" y="120.44" width="292.6" height="5.2" rx="1.3" fill="none" stroke="#f2a6b0" stroke-opacity="0.55" stroke-width="0.5"/>
<line x1="217.3" y1="130.5" x2="527" y2="130.5" stroke="#555" stroke-width="1"/>
<clipPath id="c16"><rect x="220" y="128.12" width="307" height="5.2" rx="1.3"/></clipPath>
<g clip-path="url(#c16)">
<rect x="220" y="128.12" width="3.4" height="5.2" fill="#fcc90e"/>
<rect x="223" y="128.12" width="1.4" height="5.2" fill="#ee5a7e"/>
<rect x="224" y="128.12" width="4.4" height="5.2" fill="#f89d1e"/>
<rect x="228" y="128.12" width="242.9" height="5.2" fill="#8f8aa8"/>
<rect x="470.5" y="128.12" width="42.6" height="5.2" fill="#f89d1e"/>
<rect x="512.7" y="128.12" width="12.3" height="5.2" fill="#ee5a7e"/>
<rect x="524.6" y="128.12" width="2.8" height="5.2" fill="#fcc90e"/>
</g>
<rect x="220" y="128.12" width="307" height="5.2" rx="1.3" fill="none" stroke="#f2a6b0" stroke-opacity="0.55" stroke-width="0.5"/>
<line x1="217.3" y1="138.5" x2="527" y2="138.5" stroke="#555" stroke-width="1"/>
<clipPath id="c17"><rect x="221" y="135.81" width="306" height="5.2" rx="1.3"/></clipPath>
<g clip-path="url(#c17)">
<rect x="221" y="135.81" width="3.4" height="5.2" fill="#fcc90e"/>
<rect x="224" y="135.81" width="1.4" height="5.2" fill="#ee5a7e"/>
<rect x="225" y="135.81" width="5" height="5.2" fill="#f89d1e"/>
<rect x="229.6" y="135.81" width="242.5" height="5.2" fill="#8f8aa8"/>
<rect x="471.7" y="135.81" width="42.6" height="5.2" fill="#f89d1e"/>
<rect x="513.9" y="135.81" width="12.5" height="5.2" fill="#ee5a7e"/>
<rect x="526" y="135.81" width="1.4" height="5.2" fill="#fcc90e"/>
</g>
<rect x="221" y="135.81" width="306" height="5.2" rx="1.3" fill="none" stroke="#f2a6b0" stroke-opacity="0.55" stroke-width="0.5"/>
<line x1="217.3" y1="146.5" x2="527" y2="146.5" stroke="#555" stroke-width="1"/>
<clipPath id="c18"><rect x="223.5" y="143.5" width="299.1" height="5.2" rx="1.3"/></clipPath>
<g clip-path="url(#c18)">
<rect x="223.5" y="143.5" width="3.4" height="5.2" fill="#ee5a7e"/>
<rect x="226.5" y="143.5" width="251.1" height="5.2" fill="#f89d1e"/>
<rect x="477.2" y="143.5" width="18.5" height="5.2" fill="#8f8aa8"/>
<rect x="495.3" y="143.5" width="18.3" height="5.2" fill="#ee5a7e"/>
<rect x="513.2" y="143.5" width="9.8" height="5.2" fill="#fcc90e"/>
</g>
<rect x="223.5" y="143.5" width="299.1" height="5.2" rx="1.3" fill="none" stroke="#f2a6b0" stroke-opacity="0.55" stroke-width="0.5"/>
<line x1="217.3" y1="153.5" x2="523" y2="153.5" stroke="#555" stroke-width="1"/>
<clipPath id="c19"><rect x="222" y="151.19" width="297" height="5.2" rx="1.3"/></clipPath>
<g clip-path="url(#c19)">
<rect x="222" y="151.19" width="1.9" height="5.2" fill="#fcc90e"/>
<rect x="223.5" y="151.19" width="288.8" height="5.2" fill="#f89d1e"/>
<rect x="511.9" y="151.19" width="5.5" height="5.2" fill="#ee5a7e"/>
<rect x="517" y="151.19" width="2.4" height="5.2" fill="#fcc90e"/>
</g>
<rect x="222" y="151.19" width="297" height="5.2" rx="1.3" fill="none" stroke="#f2a6b0" stroke-opacity="0.55" stroke-width="0.5"/>
<line x1="217.3" y1="161.5" x2="477" y2="161.5" stroke="#555" stroke-width="1"/>
<clipPath id="c20"><rect x="234" y="158.88" width="239.2" height="5.2" rx="1.3"/></clipPath>
<g clip-path="url(#c20)">
<rect x="234" y="158.88" width="7.4" height="5.2" fill="#fcc90e"/>
<rect x="241" y="158.88" width="29.4" height="5.2" fill="#ee5a7e"/>
<rect x="270" y="158.88" width="192.2" height="5.2" fill="#f89d1e"/>
<rect x="461.8" y="158.88" width="11.8" height="5.2" fill="#ee5a7e"/>
</g>
<rect x="234" y="158.88" width="239.2" height="5.2" rx="1.3" fill="none" stroke="#f2a6b0" stroke-opacity="0.55" stroke-width="0.5"/>
<line x1="217.3" y1="169.5" x2="527" y2="169.5" stroke="#555" stroke-width="1"/>
<clipPath id="c21"><rect x="231" y="166.57" width="288.3" height="5.2" rx="1.3"/></clipPath>
<g clip-path="url(#c21)">
<rect x="231" y="166.57" width="243.1" height="5.2" fill="#f89d1e"/>
<rect x="473.7" y="166.57" width="35.2" height="5.2" fill="#ee5a7e"/>
<rect x="508.5" y="166.57" width="11.2" height="5.2" fill="#fcc90e"/>
</g>
<rect x="231" y="166.57" width="288.3" height="5.2" rx="1.3" fill="none" stroke="#f2a6b0" stroke-opacity="0.55" stroke-width="0.5"/>
<line x1="217.3" y1="176.5" x2="518" y2="176.5" stroke="#555" stroke-width="1"/>
<clipPath id="c22"><rect x="219" y="174.26" width="289" height="5.2" rx="1.3"/></clipPath>
<g clip-path="url(#c22)">
<rect x="219" y="174.26" width="2.4" height="5.2" fill="#fcc90e"/>
<rect x="221" y="174.26" width="146.4" height="5.2" fill="#ee5a7e"/>
<rect x="367" y="174.26" width="138.1" height="5.2" fill="#f89d1e"/>
<rect x="504.7" y="174.26" width="3.7" height="5.2" fill="#fcc90e"/>
</g>
<rect x="219" y="174.26" width="289" height="5.2" rx="1.3" fill="none" stroke="#f2a6b0" stroke-opacity="0.55" stroke-width="0.5"/>
<line x1="217.3" y1="184.5" x2="519" y2="184.5" stroke="#555" stroke-width="1"/>
<clipPath id="c23"><rect x="221" y="181.95" width="289.5" height="5.2" rx="1.3"/></clipPath>
<g clip-path="url(#c23)">
<rect x="221" y="181.95" width="159.8" height="5.2" fill="#ee5a7e"/>
<rect x="380.4" y="181.95" width="124" height="5.2" fill="#f89d1e"/>
<rect x="504" y="181.95" width="2.4" height="5.2" fill="#ee5a7e"/>
<rect x="506" y="181.95" width="4.9" height="5.2" fill="#fcc90e"/>
</g>
<rect x="221" y="181.95" width="289.5" height="5.2" rx="1.3" fill="none" stroke="#f2a6b0" stroke-opacity="0.55" stroke-width="0.5"/>
<line x1="217.3" y1="192.5" x2="526.8" y2="192.5" stroke="#555" stroke-width="1"/>
<clipPath id="c24"><rect x="220.5" y="189.64" width="306.3" height="5.2" rx="1.3"/></clipPath>
<g clip-path="url(#c24)">
<rect x="220.5" y="189.64" width="104.8" height="5.2" fill="#ee5a7e"/>
<rect x="324.9" y="189.64" width="62.4" height="5.2" fill="#f89d1e"/>
<rect x="386.9" y="189.64" width="131.6" height="5.2" fill="#8f8aa8"/>
<rect x="518.1" y="189.64" width="9.1" height="5.2" fill="#fcc90e"/>
</g>
<rect x="220.5" y="189.64" width="306.3" height="5.2" rx="1.3" fill="none" stroke="#f2a6b0" stroke-opacity="0.55" stroke-width="0.5"/>
<line x1="217.3" y1="199.5" x2="516" y2="199.5" stroke="#555" stroke-width="1"/>
<clipPath id="c25"><rect x="221" y="197.32" width="295" height="5.2" rx="1.3"/></clipPath>
<g clip-path="url(#c25)">
<rect x="221" y="197.32" width="152.2" height="5.2" fill="#ee5a7e"/>
<rect x="372.8" y="197.32" width="136.1" height="5.2" fill="#f89d1e"/>
<rect x="508.5" y="197.32" width="7.9" height="5.2" fill="#fcc90e"/>
</g>
<rect x="221" y="197.32" width="295" height="5.2" rx="1.3" fill="none" stroke="#f2a6b0" stroke-opacity="0.55" stroke-width="0.5"/>
<line x1="217.3" y1="207.5" x2="526" y2="207.5" stroke="#555" stroke-width="1"/>
<clipPath id="c26"><rect x="221" y="205.01" width="301.6" height="5.2" rx="1.3"/></clipPath>
<g clip-path="url(#c26)">
<rect x="221" y="205.01" width="169.3" height="5.2" fill="#ee5a7e"/>
<rect x="389.9" y="205.01" width="120.7" height="5.2" fill="#f89d1e"/>
<rect x="510.2" y="205.01" width="7.8" height="5.2" fill="#ee5a7e"/>
<rect x="517.6" y="205.01" width="5.4" height="5.2" fill="#fcc90e"/>
</g>
<rect x="221" y="205.01" width="301.6" height="5.2" rx="1.3" fill="none" stroke="#f2a6b0" stroke-opacity="0.55" stroke-width="0.5"/>
<line x1="217.3" y1="215.5" x2="521" y2="215.5" stroke="#555" stroke-width="1"/>
<clipPath id="c27"><rect x="218.5" y="212.7" width="300.4" height="5.2" rx="1.3"/></clipPath>
<g clip-path="url(#c27)">
<rect x="218.5" y="212.7" width="207.7" height="5.2" fill="#f89d1e"/>
<rect x="425.8" y="212.7" width="83.1" height="5.2" fill="#8f8aa8"/>
<rect x="508.5" y="212.7" width="2.9" height="5.2" fill="#ee5a7e"/>
<rect x="511" y="212.7" width="8.3" height="5.2" fill="#fcc90e"/>
</g>
<rect x="218.5" y="212.7" width="300.4" height="5.2" rx="1.3" fill="none" stroke="#f2a6b0" stroke-opacity="0.55" stroke-width="0.5"/>
<line x1="217.3" y1="222.5" x2="527" y2="222.5" stroke="#555" stroke-width="1"/>
<clipPath id="c28"><rect x="226" y="220.39" width="294" height="5.2" rx="1.3"/></clipPath>
<g clip-path="url(#c28)">
<rect x="226" y="220.39" width="1.9" height="5.2" fill="#fcc90e"/>
<rect x="227.5" y="220.39" width="165.9" height="5.2" fill="#ee5a7e"/>
<rect x="393" y="220.39" width="39.4" height="5.2" fill="#0e7f73"/>
<rect x="432" y="220.39" width="17.3" height="5.2" fill="#8f8aa8"/>
<rect x="448.9" y="220.39" width="69.6" height="5.2" fill="#f89d1e"/>
<rect x="518.1" y="220.39" width="2.3" height="5.2" fill="#fcc90e"/>
</g>
<rect x="226" y="220.39" width="294" height="5.2" rx="1.3" fill="none" stroke="#f2a6b0" stroke-opacity="0.55" stroke-width="0.5"/>
<line x1="217.3" y1="230.5" x2="510" y2="230.5" stroke="#555" stroke-width="1"/>
<clipPath id="c29"><rect x="221" y="228.08" width="287" height="5.2" rx="1.3"/></clipPath>
<g clip-path="url(#c29)">
<rect x="221" y="228.08" width="1.4" height="5.2" fill="#fcc90e"/>
<rect x="222" y="228.08" width="4.9" height="5.2" fill="#ee5a7e"/>
<rect x="226.5" y="228.08" width="257.5" height="5.2" fill="#f89d1e"/>
<rect x="483.6" y="228.08" width="22" height="5.2" fill="#ee5a7e"/>
<rect x="505.2" y="228.08" width="3.2" height="5.2" fill="#fcc90e"/>
</g>
<rect x="221" y="228.08" width="287" height="5.2" rx="1.3" fill="none" stroke="#f2a6b0" stroke-opacity="0.55" stroke-width="0.5"/>
<line x1="217.3" y1="238.5" x2="527" y2="238.5" stroke="#555" stroke-width="1"/>
<clipPath id="c30"><rect x="221" y="235.77" width="282.3" height="5.2" rx="1.3"/></clipPath>
<g clip-path="url(#c30)">
<rect x="221" y="235.77" width="5.9" height="5.2" fill="#ee5a7e"/>
<rect x="226.5" y="235.77" width="259.8" height="5.2" fill="#f89d1e"/>
<rect x="485.9" y="235.77" width="9.8" height="5.2" fill="#8f8aa8"/>
<rect x="495.3" y="235.77" width="8.4" height="5.2" fill="#fcc90e"/>
</g>
<rect x="221" y="235.77" width="282.3" height="5.2" rx="1.3" fill="none" stroke="#f2a6b0" stroke-opacity="0.55" stroke-width="0.5"/>
<line x1="217.3" y1="246.5" x2="526.8" y2="246.5" stroke="#555" stroke-width="1"/>
<clipPath id="c31"><rect x="228" y="243.46" width="298.8" height="5.2" rx="1.3"/></clipPath>
<g clip-path="url(#c31)">
<rect x="228" y="243.46" width="47.7" height="5.2" fill="#f89d1e"/>
<rect x="275.3" y="243.46" width="204.3" height="5.2" fill="#8f8aa8"/>
<rect x="479.2" y="243.46" width="9.3" height="5.2" fill="#f89d1e"/>
<rect x="488.1" y="243.46" width="39.1" height="5.2" fill="#ee5a7e"/>
</g>
<rect x="228" y="243.46" width="298.8" height="5.2" rx="1.3" fill="none" stroke="#f2a6b0" stroke-opacity="0.55" stroke-width="0.5"/>
<line x1="217.3" y1="253.5" x2="527" y2="253.5" stroke="#555" stroke-width="1"/>
<clipPath id="c32"><rect x="218" y="251.15" width="307" height="5.2" rx="1.3"/></clipPath>
<g clip-path="url(#c32)">
<rect x="218" y="251.15" width="4.9" height="5.2" fill="#fcc90e"/>
<rect x="222.5" y="251.15" width="158.3" height="5.2" fill="#ee5a7e"/>
<rect x="380.4" y="251.15" width="7.9" height="5.2" fill="#0e7f73"/>
<rect x="387.9" y="251.15" width="6.6" height="5.2" fill="#8f8aa8"/>
<rect x="394.1" y="251.15" width="118.2" height="5.2" fill="#f89d1e"/>
<rect x="511.9" y="251.15" width="3" height="5.2" fill="#8f8aa8"/>
<rect x="514.5" y="251.15" width="10.9" height="5.2" fill="#fcc90e"/>
</g>
<rect x="218" y="251.15" width="307" height="5.2" rx="1.3" fill="none" stroke="#f2a6b0" stroke-opacity="0.55" stroke-width="0.5"/>
<line x1="217.3" y1="261.5" x2="514" y2="261.5" stroke="#555" stroke-width="1"/>
<clipPath id="c33"><rect x="223" y="258.84" width="285.5" height="5.2" rx="1.3"/></clipPath>
<g clip-path="url(#c33)">
<rect x="223" y="258.84" width="261" height="5.2" fill="#f89d1e"/>
<rect x="483.6" y="258.84" width="25.3" height="5.2" fill="#fcc90e"/>
</g>
<rect x="223" y="258.84" width="285.5" height="5.2" rx="1.3" fill="none" stroke="#f2a6b0" stroke-opacity="0.55" stroke-width="0.5"/>
<line x1="217.3" y1="269.5" x2="526.8" y2="269.5" stroke="#555" stroke-width="1"/>
<clipPath id="c34"><rect x="221.5" y="266.53" width="305.3" height="5.2" rx="1.3"/></clipPath>
<g clip-path="url(#c34)">
<rect x="221.5" y="266.53" width="2.4" height="5.2" fill="#fcc90e"/>
<rect x="223.5" y="266.53" width="54.6" height="5.2" fill="#f89d1e"/>
<rect x="277.7" y="266.53" width="237.1" height="5.2" fill="#8f8aa8"/>
<rect x="514.4" y="266.53" width="12.8" height="5.2" fill="#f89d1e"/>
</g>
<rect x="221.5" y="266.53" width="305.3" height="5.2" rx="1.3" fill="none" stroke="#f2a6b0" stroke-opacity="0.55" stroke-width="0.5"/>
<line x1="217.3" y1="276.5" x2="514" y2="276.5" stroke="#555" stroke-width="1"/>
<clipPath id="c35"><rect x="218" y="274.21" width="294.7" height="5.2" rx="1.3"/></clipPath>
<g clip-path="url(#c35)">
<rect x="218" y="274.21" width="61.9" height="5.2" fill="#1664c6"/>
<rect x="279.5" y="274.21" width="110" height="5.2" fill="#0e7f73"/>
<rect x="389.1" y="274.21" width="4.3" height="5.2" fill="#8f8aa8"/>
<rect x="393" y="274.21" width="117.1" height="5.2" fill="#f89d1e"/>
<rect x="509.7" y="274.21" width="3.4" height="5.2" fill="#1664c6"/>
</g>
<rect x="218" y="274.21" width="294.7" height="5.2" rx="1.3" fill="none" stroke="#f2a6b0" stroke-opacity="0.55" stroke-width="0.5"/>
<line x1="217.3" y1="284.5" x2="523" y2="284.5" stroke="#555" stroke-width="1"/>
<clipPath id="c36"><rect x="218" y="281.9" width="304" height="5.2" rx="1.3"/></clipPath>
<g clip-path="url(#c36)">
<rect x="218" y="281.9" width="5.9" height="5.2" fill="#fcc90e"/>
<rect x="223.5" y="281.9" width="3.9" height="5.2" fill="#f89d1e"/>
<rect x="227" y="281.9" width="264.2" height="5.2" fill="#8f8aa8"/>
<rect x="490.8" y="281.9" width="4.2" height="5.2" fill="#ee5a7e"/>
<rect x="494.6" y="281.9" width="27.8" height="5.2" fill="#fcc90e"/>
</g>
<rect x="218" y="281.9" width="304" height="5.2" rx="1.3" fill="none" stroke="#f2a6b0" stroke-opacity="0.55" stroke-width="0.5"/>
<line x1="217.3" y1="292.5" x2="522" y2="292.5" stroke="#555" stroke-width="1"/>
<clipPath id="c37"><rect x="218" y="289.59" width="298" height="5.2" rx="1.3"/></clipPath>
<g clip-path="url(#c37)">
<rect x="218" y="289.59" width="5.9" height="5.2" fill="#fcc90e"/>
<rect x="223.5" y="289.59" width="3.9" height="5.2" fill="#f89d1e"/>
<rect x="227" y="289.59" width="245.6" height="5.2" fill="#8f8aa8"/>
<rect x="472.2" y="289.59" width="14.3" height="5.2" fill="#f89d1e"/>
<rect x="486.1" y="289.59" width="9.3" height="5.2" fill="#ee5a7e"/>
<rect x="495" y="289.59" width="21.4" height="5.2" fill="#fcc90e"/>
</g>
<rect x="218" y="289.59" width="298" height="5.2" rx="1.3" fill="none" stroke="#f2a6b0" stroke-opacity="0.55" stroke-width="0.5"/>
<line x1="217.3" y1="299.5" x2="509" y2="299.5" stroke="#555" stroke-width="1"/>
<clipPath id="c38"><rect x="221" y="297.28" width="288" height="5.2" rx="1.3"/></clipPath>
<g clip-path="url(#c38)">
<rect x="221" y="297.28" width="7.4" height="5.2" fill="#f89d1e"/>
<rect x="228" y="297.28" width="264.5" height="5.2" fill="#8f8aa8"/>
<rect x="492.1" y="297.28" width="17.3" height="5.2" fill="#0e7f73"/>
</g>
<rect x="221" y="297.28" width="288" height="5.2" rx="1.3" fill="none" stroke="#f2a6b0" stroke-opacity="0.55" stroke-width="0.5"/>
<line x1="217.3" y1="307.5" x2="514" y2="307.5" stroke="#555" stroke-width="1"/>
<clipPath id="c39"><rect x="220.5" y="304.97" width="290" height="5.2" rx="1.3"/></clipPath>
<g clip-path="url(#c39)">
<rect x="220.5" y="304.97" width="2.9" height="5.2" fill="#fcc90e"/>
<rect x="223" y="304.97" width="5.9" height="5.2" fill="#ee5a7e"/>
<rect x="228.5" y="304.97" width="271.7" height="5.2" fill="#f89d1e"/>
<rect x="499.8" y="304.97" width="11.1" height="5.2" fill="#8f8aa8"/>
</g>
<rect x="220.5" y="304.97" width="290" height="5.2" rx="1.3" fill="none" stroke="#f2a6b0" stroke-opacity="0.55" stroke-width="0.5"/>
<line x1="217.3" y1="315.5" x2="524" y2="315.5" stroke="#555" stroke-width="1"/>
<clipPath id="c40"><rect x="226" y="312.66" width="295" height="5.2" rx="1.3"/></clipPath>
<g clip-path="url(#c40)">
<rect x="226" y="312.66" width="3.4" height="5.2" fill="#fcc90e"/>
<rect x="229" y="312.66" width="5.9" height="5.2" fill="#ee5a7e"/>
<rect x="234.5" y="312.66" width="171.9" height="5.2" fill="#8f8aa8"/>
<rect x="406" y="312.66" width="99.1" height="5.2" fill="#0e7f73"/>
<rect x="504.7" y="312.66" width="5.2" height="5.2" fill="#8f8aa8"/>
<rect x="509.5" y="312.66" width="11.9" height="5.2" fill="#fcc90e"/>
</g>
<rect x="226" y="312.66" width="295" height="5.2" rx="1.3" fill="none" stroke="#f2a6b0" stroke-opacity="0.55" stroke-width="0.5"/>
<line x1="217.3" y1="322.5" x2="518" y2="322.5" stroke="#555" stroke-width="1"/>
<clipPath id="c41"><rect x="227.5" y="320.35" width="286.9" height="5.2" rx="1.3"/></clipPath>
<g clip-path="url(#c41)">
<rect x="227.5" y="320.35" width="3.4" height="5.2" fill="#fcc90e"/>
<rect x="230.5" y="320.35" width="273.9" height="5.2" fill="#f89d1e"/>
<rect x="504" y="320.35" width="10.8" height="5.2" fill="#fcc90e"/>
</g>
<rect x="227.5" y="320.35" width="286.9" height="5.2" rx="1.3" fill="none" stroke="#f2a6b0" stroke-opacity="0.55" stroke-width="0.5"/>
<line x1="217.3" y1="330.5" x2="518" y2="330.5" stroke="#555" stroke-width="1"/>
<clipPath id="c42"><rect x="227.5" y="328.04" width="286.9" height="5.2" rx="1.3"/></clipPath>
<g clip-path="url(#c42)">
<rect x="227.5" y="328.04" width="3.4" height="5.2" fill="#fcc90e"/>
<rect x="230.5" y="328.04" width="272.7" height="5.2" fill="#f89d1e"/>
<rect x="502.8" y="328.04" width="12" height="5.2" fill="#fcc90e"/>
</g>
<rect x="227.5" y="328.04" width="286.9" height="5.2" rx="1.3" fill="none" stroke="#f2a6b0" stroke-opacity="0.55" stroke-width="0.5"/>
<line x1="217.3" y1="338.5" x2="515" y2="338.5" stroke="#555" stroke-width="1"/>
<clipPath id="c43"><rect x="224.5" y="335.73" width="288.2" height="5.2" rx="1.3"/></clipPath>
<g clip-path="url(#c43)">
<rect x="224.5" y="335.73" width="2.9" height="5.2" fill="#fcc90e"/>
<rect x="227" y="335.73" width="4.4" height="5.2" fill="#f89d1e"/>
<rect x="231" y="335.73" width="259" height="5.2" fill="#8f8aa8"/>
<rect x="489.6" y="335.73" width="11.8" height="5.2" fill="#f89d1e"/>
<rect x="501" y="335.73" width="12.1" height="5.2" fill="#ee5a7e"/>
</g>
<rect x="224.5" y="335.73" width="288.2" height="5.2" rx="1.3" fill="none" stroke="#f2a6b0" stroke-opacity="0.55" stroke-width="0.5"/>
<line x1="217.3" y1="346.5" x2="511" y2="346.5" stroke="#555" stroke-width="1"/>
<clipPath id="c44"><rect x="224.5" y="343.42" width="281.5" height="5.2" rx="1.3"/></clipPath>
<g clip-path="url(#c44)">
<rect x="224.5" y="343.42" width="2.9" height="5.2" fill="#f89d1e"/>
<rect x="227" y="343.42" width="243.2" height="5.2" fill="#8f8aa8"/>
<rect x="469.8" y="343.42" width="19.7" height="5.2" fill="#0e7f73"/>
<rect x="489.1" y="343.42" width="15.3" height="5.2" fill="#ee5a7e"/>
<rect x="504" y="343.42" width="2.4" height="5.2" fill="#fcc90e"/>
</g>
<rect x="224.5" y="343.42" width="281.5" height="5.2" rx="1.3" fill="none" stroke="#f2a6b0" stroke-opacity="0.55" stroke-width="0.5"/>
<line x1="217.3" y1="353.5" x2="523" y2="353.5" stroke="#555" stroke-width="1"/>
<clipPath id="c45"><rect x="225" y="351.1" width="296" height="5.2" rx="1.3"/></clipPath>
<g clip-path="url(#c45)">
<rect x="225" y="351.1" width="2.4" height="5.2" fill="#fcc90e"/>
<rect x="227" y="351.1" width="4.9" height="5.2" fill="#ee5a7e"/>
<rect x="231.5" y="351.1" width="131.5" height="5.2" fill="#8f8aa8"/>
<rect x="362.6" y="351.1" width="141.8" height="5.2" fill="#f89d1e"/>
<rect x="504" y="351.1" width="7.4" height="5.2" fill="#8f8aa8"/>
<rect x="511" y="351.1" width="5" height="5.2" fill="#ee5a7e"/>
<rect x="515.6" y="351.1" width="5.8" height="5.2" fill="#fcc90e"/>
</g>
<rect x="225" y="351.1" width="296" height="5.2" rx="1.3" fill="none" stroke="#f2a6b0" stroke-opacity="0.55" stroke-width="0.5"/>
<line x1="217.3" y1="361.5" x2="472.2" y2="361.5" stroke="#555" stroke-width="1"/>
<clipPath id="c46"><rect x="227.5" y="358.79" width="244.7" height="5.2" rx="1.3"/></clipPath>
<g clip-path="url(#c46)">
<rect x="227.5" y="358.79" width="159.8" height="5.2" fill="#f89d1e"/>
<rect x="386.9" y="358.79" width="85.7" height="5.2" fill="#8f8aa8"/>
</g>
<rect x="227.5" y="358.79" width="244.7" height="5.2" rx="1.3" fill="none" stroke="#f2a6b0" stroke-opacity="0.55" stroke-width="0.5"/>
<line x1="217.3" y1="369.5" x2="526" y2="369.5" stroke="#555" stroke-width="1"/>
<clipPath id="c47"><rect x="225.5" y="366.48" width="295.5" height="5.2" rx="1.3"/></clipPath>
<g clip-path="url(#c47)">
<rect x="225.5" y="366.48" width="169" height="5.2" fill="#f89d1e"/>
<rect x="394.1" y="366.48" width="85.5" height="5.2" fill="#0e7f73"/>
<rect x="479.2" y="366.48" width="39.2" height="5.2" fill="#f89d1e"/>
<rect x="518" y="366.48" width="3.4" height="5.2" fill="#fcc90e"/>
</g>
<rect x="225.5" y="366.48" width="295.5" height="5.2" rx="1.3" fill="none" stroke="#f2a6b0" stroke-opacity="0.55" stroke-width="0.5"/>
<line x1="217.3" y1="376.5" x2="520" y2="376.5" stroke="#555" stroke-width="1"/>
<clipPath id="c48"><rect x="222" y="374.17" width="296.9" height="5.2" rx="1.3"/></clipPath>
<g clip-path="url(#c48)">
<rect x="222" y="374.17" width="4.4" height="5.2" fill="#fcc90e"/>
<rect x="226" y="374.17" width="169.2" height="5.2" fill="#ee5a7e"/>
<rect x="394.8" y="374.17" width="43.3" height="5.2" fill="#0e7f73"/>
<rect x="437.7" y="374.17" width="68.7" height="5.2" fill="#f89d1e"/>
<rect x="506" y="374.17" width="4.9" height="5.2" fill="#ee5a7e"/>
<rect x="510.5" y="374.17" width="8.8" height="5.2" fill="#fcc90e"/>
</g>
<rect x="222" y="374.17" width="296.9" height="5.2" rx="1.3" fill="none" stroke="#f2a6b0" stroke-opacity="0.55" stroke-width="0.5"/>
<line x1="217.3" y1="384.5" x2="522" y2="384.5" stroke="#555" stroke-width="1"/>
<clipPath id="c49"><rect x="222" y="381.86" width="299" height="5.2" rx="1.3"/></clipPath>
<g clip-path="url(#c49)">
<rect x="222" y="381.86" width="1.9" height="5.2" fill="#fcc90e"/>
<rect x="223.5" y="381.86" width="172.9" height="5.2" fill="#ee5a7e"/>
<rect x="396" y="381.86" width="43.4" height="5.2" fill="#0e7f73"/>
<rect x="439" y="381.86" width="67.4" height="5.2" fill="#f89d1e"/>
<rect x="506" y="381.86" width="3.4" height="5.2" fill="#8f8aa8"/>
<rect x="509" y="381.86" width="4.4" height="5.2" fill="#ee5a7e"/>
<rect x="513" y="381.86" width="8.4" height="5.2" fill="#fcc90e"/>
</g>
<rect x="222" y="381.86" width="299" height="5.2" rx="1.3" fill="none" stroke="#f2a6b0" stroke-opacity="0.55" stroke-width="0.5"/>
<line x1="217.3" y1="392.5" x2="461.8" y2="392.5" stroke="#555" stroke-width="1"/>
<clipPath id="c50"><rect x="218" y="389.55" width="225" height="5.2" rx="1.3"/></clipPath>
<g clip-path="url(#c50)">
<rect x="218" y="389.55" width="4.4" height="5.2" fill="#fcc90e"/>
<rect x="222" y="389.55" width="49.2" height="5.2" fill="#2333ee"/>
<rect x="270.8" y="389.55" width="33.9" height="5.2" fill="#f89d1e"/>
<rect x="304.3" y="389.55" width="132.4" height="5.2" fill="#8f8aa8"/>
<rect x="436.3" y="389.55" width="7.1" height="5.2" fill="#fcc90e"/>
</g>
<rect x="218" y="389.55" width="225" height="5.2" rx="1.3" fill="none" stroke="#f2a6b0" stroke-opacity="0.55" stroke-width="0.5"/>
<line x1="217.3" y1="399.5" x2="413" y2="399.5" stroke="#555" stroke-width="1"/>
<clipPath id="c51"><rect x="218" y="397.24" width="182.3" height="5.2" rx="1.3"/></clipPath>
<g clip-path="url(#c51)">
<rect x="218" y="397.24" width="47.5" height="5.2" fill="#f89d1e"/>
<rect x="265.1" y="397.24" width="124.4" height="5.2" fill="#8f8aa8"/>
<rect x="389.1" y="397.24" width="11.6" height="5.2" fill="#f89d1e"/>
</g>
<rect x="218" y="397.24" width="182.3" height="5.2" rx="1.3" fill="none" stroke="#f2a6b0" stroke-opacity="0.55" stroke-width="0.5"/>
<line x1="217.3" y1="407.5" x2="457.8" y2="407.5" stroke="#555" stroke-width="1"/>
<clipPath id="c52"><rect x="280.2" y="404.93" width="168" height="5.2" rx="1.3"/></clipPath>
<g clip-path="url(#c52)">
<rect x="280.2" y="404.93" width="168.4" height="5.2" fill="#f89d1e"/>
</g>
<rect x="280.2" y="404.93" width="168" height="5.2" rx="1.3" fill="none" stroke="#f2a6b0" stroke-opacity="0.55" stroke-width="0.5"/>
<line x1="217.3" y1="415.5" x2="445.7" y2="415.5" stroke="#555" stroke-width="1"/>
<clipPath id="c53"><rect x="218" y="412.62" width="227.7" height="5.2" rx="1.3"/></clipPath>
<g clip-path="url(#c53)">
<rect x="218" y="412.62" width="27.1" height="5.2" fill="#ee5a7e"/>
<rect x="244.7" y="412.62" width="107.1" height="5.2" fill="#f89d1e"/>
<rect x="351.4" y="412.62" width="84" height="5.2" fill="#8f8aa8"/>
<rect x="435" y="412.62" width="11.1" height="5.2" fill="#fcc90e"/>
</g>
<rect x="218" y="412.62" width="227.7" height="5.2" rx="1.3" fill="none" stroke="#f2a6b0" stroke-opacity="0.55" stroke-width="0.5"/>
<line x1="217.3" y1="422.5" x2="446" y2="422.5" stroke="#555" stroke-width="1"/>
<clipPath id="c54"><rect x="218" y="420.31" width="228" height="5.2" rx="1.3"/></clipPath>
<g clip-path="url(#c54)">
<rect x="218" y="420.31" width="27.1" height="5.2" fill="#ee5a7e"/>
<rect x="244.7" y="420.31" width="107.1" height="5.2" fill="#f89d1e"/>
<rect x="351.4" y="420.31" width="84" height="5.2" fill="#8f8aa8"/>
<rect x="435" y="420.31" width="11.4" height="5.2" fill="#fcc90e"/>
</g>
<rect x="218" y="420.31" width="228" height="5.2" rx="1.3" fill="none" stroke="#f2a6b0" stroke-opacity="0.55" stroke-width="0.5"/>
<line x1="217.3" y1="430.5" x2="421.4" y2="430.5" stroke="#555" stroke-width="1"/>
<clipPath id="c55"><rect x="223.6" y="427.99" width="197.8" height="5.2" rx="1.3"/></clipPath>
<g clip-path="url(#c55)">
<rect x="223.6" y="427.99" width="198.2" height="5.2" fill="#ee5a7e"/>
</g>
<rect x="223.6" y="427.99" width="197.8" height="5.2" rx="1.3" fill="none" stroke="#f2a6b0" stroke-opacity="0.55" stroke-width="0.5"/>
<line x1="217.3" y1="438.5" x2="523" y2="438.5" stroke="#555" stroke-width="1"/>
<clipPath id="c56"><rect x="231" y="435.68" width="290" height="5.2" rx="1.3"/></clipPath>
<g clip-path="url(#c56)">
<rect x="231" y="435.68" width="7.9" height="5.2" fill="#fcc90e"/>
<rect x="238.5" y="435.68" width="4.9" height="5.2" fill="#f89d1e"/>
<rect x="243" y="435.68" width="253.4" height="5.2" fill="#8f8aa8"/>
<rect x="496" y="435.68" width="9.4" height="5.2" fill="#f89d1e"/>
<rect x="505" y="435.68" width="16.4" height="5.2" fill="#fcc90e"/>
</g>
<rect x="231" y="435.68" width="290" height="5.2" rx="1.3" fill="none" stroke="#f2a6b0" stroke-opacity="0.55" stroke-width="0.5"/>
<line x1="217.3" y1="445.5" x2="495" y2="445.5" stroke="#555" stroke-width="1"/>
<clipPath id="c57"><rect x="237" y="443.37" width="253" height="5.2" rx="1.3"/></clipPath>
<g clip-path="url(#c57)">
<rect x="237" y="443.37" width="156.2" height="5.2" fill="#f89d1e"/>
<rect x="392.8" y="443.37" width="79.8" height="5.2" fill="#8f8aa8"/>
<rect x="472.2" y="443.37" width="14.2" height="5.2" fill="#f89d1e"/>
<rect x="486" y="443.37" width="4.4" height="5.2" fill="#ee5a7e"/>
</g>
<rect x="237" y="443.37" width="253" height="5.2" rx="1.3" fill="none" stroke="#f2a6b0" stroke-opacity="0.55" stroke-width="0.5"/>
<line x1="217.3" y1="453.5" x2="525" y2="453.5" stroke="#555" stroke-width="1"/>
<clipPath id="c58"><rect x="218" y="451.06" width="303" height="5.2" rx="1.3"/></clipPath>
<g clip-path="url(#c58)">
<rect x="218" y="451.06" width="8.4" height="5.2" fill="#fcc90e"/>
<rect x="226" y="451.06" width="155.6" height="5.2" fill="#ee5a7e"/>
<rect x="381.2" y="451.06" width="130.6" height="5.2" fill="#f89d1e"/>
<rect x="511.4" y="451.06" width="2" height="5.2" fill="#8f8aa8"/>
<rect x="513" y="451.06" width="8.4" height="5.2" fill="#fcc90e"/>
</g>
<rect x="218" y="451.06" width="303" height="5.2" rx="1.3" fill="none" stroke="#f2a6b0" stroke-opacity="0.55" stroke-width="0.5"/>
<line x1="217.3" y1="461.5" x2="423" y2="461.5" stroke="#555" stroke-width="1"/>
<clipPath id="c59"><rect x="221" y="458.75" width="202" height="5.2" rx="1.3"/></clipPath>
<g clip-path="url(#c59)">
<rect x="221" y="458.75" width="198.3" height="5.2" fill="#ee5a7e"/>
<rect x="418.9" y="458.75" width="4.5" height="5.2" fill="#fcc90e"/>
</g>
<rect x="221" y="458.75" width="202" height="5.2" rx="1.3" fill="none" stroke="#f2a6b0" stroke-opacity="0.55" stroke-width="0.5"/>
<line x1="217.3" y1="469.5" x2="421" y2="469.5" stroke="#555" stroke-width="1"/>
<clipPath id="c60"><rect x="235" y="466.44" width="183.9" height="5.2" rx="1.3"/></clipPath>
<g clip-path="url(#c60)">
<rect x="235" y="466.44" width="36.9" height="5.2" fill="#fcc90e"/>
<rect x="271.5" y="466.44" width="70.5" height="5.2" fill="#ee5a7e"/>
<rect x="341.6" y="466.44" width="55.4" height="5.2" fill="#0e7f73"/>
<rect x="396.6" y="466.44" width="5.8" height="5.2" fill="#ee5a7e"/>
<rect x="402" y="466.44" width="17.3" height="5.2" fill="#fcc90e"/>
</g>
<rect x="235" y="466.44" width="183.9" height="5.2" rx="1.3" fill="none" stroke="#f2a6b0" stroke-opacity="0.55" stroke-width="0.5"/>
<line x1="217.3" y1="476.5" x2="533" y2="476.5" stroke="#555" stroke-width="1"/>
<clipPath id="c61"><rect x="223" y="474.13" width="301.6" height="5.2" rx="1.3"/></clipPath>
<g clip-path="url(#c61)">
<rect x="223" y="474.13" width="2.4" height="5.2" fill="#fcc90e"/>
<rect x="225" y="474.13" width="187.6" height="5.2" fill="#ee5a7e"/>
<rect x="412.2" y="474.13" width="32.6" height="5.2" fill="#0e7f73"/>
<rect x="444.4" y="474.13" width="14.3" height="5.2" fill="#8f8aa8"/>
<rect x="458.3" y="474.13" width="21.3" height="5.2" fill="#f89d1e"/>
<rect x="479.2" y="474.13" width="18.5" height="5.2" fill="#8f8aa8"/>
<rect x="497.3" y="474.13" width="18.1" height="5.2" fill="#ee5a7e"/>
<rect x="515" y="474.13" width="10" height="5.2" fill="#fcc90e"/>
</g>
<rect x="223" y="474.13" width="301.6" height="5.2" rx="1.3" fill="none" stroke="#f2a6b0" stroke-opacity="0.55" stroke-width="0.5"/>
<line x1="217.3" y1="484.5" x2="531" y2="484.5" stroke="#555" stroke-width="1"/>
<clipPath id="c62"><rect x="230" y="481.82" width="296" height="5.2" rx="1.3"/></clipPath>
<g clip-path="url(#c62)">
<rect x="230" y="481.82" width="222.3" height="5.2" fill="#f89d1e"/>
<rect x="451.9" y="481.82" width="37.6" height="5.2" fill="#8f8aa8"/>
<rect x="489.1" y="481.82" width="27.7" height="5.2" fill="#f89d1e"/>
<rect x="516.4" y="481.82" width="10" height="5.2" fill="#ee5a7e"/>
</g>
<rect x="230" y="481.82" width="296" height="5.2" rx="1.3" fill="none" stroke="#f2a6b0" stroke-opacity="0.55" stroke-width="0.5"/>
<line x1="217.3" y1="492.5" x2="504" y2="492.5" stroke="#555" stroke-width="1"/>
<clipPath id="c63"><rect x="220.5" y="489.51" width="279.8" height="5.2" rx="1.3"/></clipPath>
<g clip-path="url(#c63)">
<rect x="220.5" y="489.51" width="159.8" height="5.2" fill="#f89d1e"/>
<rect x="379.9" y="489.51" width="112.6" height="5.2" fill="#8f8aa8"/>
<rect x="492.1" y="489.51" width="2.3" height="5.2" fill="#a6d47c"/>
<rect x="494" y="489.51" width="6.7" height="5.2" fill="#fcc90e"/>
</g>
<rect x="220.5" y="489.51" width="279.8" height="5.2" rx="1.3" fill="none" stroke="#f2a6b0" stroke-opacity="0.55" stroke-width="0.5"/>
<line x1="217.3" y1="499.5" x2="505" y2="499.5" stroke="#555" stroke-width="1"/>
<clipPath id="c64"><rect x="220" y="497.2" width="280.8" height="5.2" rx="1.3"/></clipPath>
<g clip-path="url(#c64)">
<rect x="220" y="497.2" width="159.1" height="5.2" fill="#52cf8b"/>
<rect x="378.7" y="497.2" width="2.1" height="5.2" fill="#f89d1e"/>
<rect x="380.4" y="497.2" width="113" height="5.2" fill="#8f8aa8"/>
<rect x="493" y="497.2" width="1.4" height="5.2" fill="#a6d47c"/>
<rect x="494" y="497.2" width="7.2" height="5.2" fill="#fcc90e"/>
</g>
<rect x="220" y="497.2" width="280.8" height="5.2" rx="1.3" fill="none" stroke="#f2a6b0" stroke-opacity="0.55" stroke-width="0.5"/>
<line x1="217.3" y1="507.5" x2="522" y2="507.5" stroke="#555" stroke-width="1"/>
<clipPath id="c65"><rect x="222" y="504.88" width="289.9" height="5.2" rx="1.3"/></clipPath>
<g clip-path="url(#c65)">
<rect x="222" y="504.88" width="3.4" height="5.2" fill="#fcc90e"/>
<rect x="225" y="504.88" width="3.4" height="5.2" fill="#f89d1e"/>
<rect x="228" y="504.88" width="267.2" height="5.2" fill="#8f8aa8"/>
<rect x="494.8" y="504.88" width="1.6" height="5.2" fill="#ee5a7e"/>
<rect x="496" y="504.88" width="16.3" height="5.2" fill="#fcc90e"/>
</g>
<rect x="222" y="504.88" width="289.9" height="5.2" rx="1.3" fill="none" stroke="#f2a6b0" stroke-opacity="0.55" stroke-width="0.5"/>
<line x1="217.3" y1="515.5" x2="520" y2="515.5" stroke="#555" stroke-width="1"/>
<clipPath id="c66"><rect x="221" y="512.57" width="291.2" height="5.2" rx="1.3"/></clipPath>
<g clip-path="url(#c66)">
<rect x="221" y="512.57" width="146.4" height="5.2" fill="#ee5a7e"/>
<rect x="367" y="512.57" width="14.6" height="5.2" fill="#0e7f73"/>
<rect x="381.2" y="512.57" width="122" height="5.2" fill="#f89d1e"/>
<rect x="502.8" y="512.57" width="9.8" height="5.2" fill="#fcc90e"/>
</g>
<rect x="221" y="512.57" width="291.2" height="5.2" rx="1.3" fill="none" stroke="#f2a6b0" stroke-opacity="0.55" stroke-width="0.5"/>
<line x1="217.3" y1="522.5" x2="523" y2="522.5" stroke="#555" stroke-width="1"/>
<clipPath id="c67"><rect x="229.5" y="520.26" width="285.5" height="5.2" rx="1.3"/></clipPath>
<g clip-path="url(#c67)">
<rect x="229.5" y="520.26" width="163.7" height="5.2" fill="#f89d1e"/>
<rect x="392.8" y="520.26" width="88" height="5.2" fill="#0e7f73"/>
<rect x="480.4" y="520.26" width="21.5" height="5.2" fill="#f89d1e"/>
<rect x="501.5" y="520.26" width="13.9" height="5.2" fill="#fcc90e"/>
</g>
<rect x="229.5" y="520.26" width="285.5" height="5.2" rx="1.3" fill="none" stroke="#f2a6b0" stroke-opacity="0.55" stroke-width="0.5"/>
<line x1="217.3" y1="530.5" x2="463" y2="530.5" stroke="#555" stroke-width="1"/>
<clipPath id="c68"><rect x="218" y="527.95" width="235.6" height="5.2" rx="1.3"/></clipPath>
<g clip-path="url(#c68)">
<rect x="218" y="527.95" width="99.1" height="5.2" fill="#ee5a7e"/>
<rect x="316.7" y="527.95" width="10.3" height="5.2" fill="#0e7f73"/>
<rect x="326.6" y="527.95" width="43.4" height="5.2" fill="#f89d1e"/>
<rect x="369.6" y="527.95" width="75.7" height="5.2" fill="#8f8aa8"/>
<rect x="444.9" y="527.95" width="9.1" height="5.2" fill="#ee5a7e"/>
</g>
<rect x="218" y="527.95" width="235.6" height="5.2" rx="1.3" fill="none" stroke="#f2a6b0" stroke-opacity="0.55" stroke-width="0.5"/>
<line x1="217.3" y1="538.5" x2="521" y2="538.5" stroke="#555" stroke-width="1"/>
<clipPath id="c69"><rect x="221.5" y="535.64" width="293.1" height="5.2" rx="1.3"/></clipPath>
<g clip-path="url(#c69)">
<rect x="221.5" y="535.64" width="1.9" height="5.2" fill="#fcc90e"/>
<rect x="223" y="535.64" width="280.7" height="5.2" fill="#f89d1e"/>
<rect x="503.3" y="535.64" width="11.7" height="5.2" fill="#fcc90e"/>
</g>
<rect x="221.5" y="535.64" width="293.1" height="5.2" rx="1.3" fill="none" stroke="#f2a6b0" stroke-opacity="0.55" stroke-width="0.5"/>
<line x1="217.3" y1="545.5" x2="512.5" y2="545.5" stroke="#555" stroke-width="1"/>
<clipPath id="c70"><rect x="220.5" y="543.33" width="292" height="5.2" rx="1.3"/></clipPath>
<g clip-path="url(#c70)">
<rect x="220.5" y="543.33" width="7.4" height="5.2" fill="#fcc90e"/>
<rect x="227.5" y="543.33" width="4.9" height="5.2" fill="#f89d1e"/>
<rect x="232" y="543.33" width="279.4" height="5.2" fill="#8f8aa8"/>
<rect x="511" y="543.33" width="1.9" height="5.2" fill="#fcc90e"/>
</g>
<rect x="220.5" y="543.33" width="292" height="5.2" rx="1.3" fill="none" stroke="#f2a6b0" stroke-opacity="0.55" stroke-width="0.5"/>
<line x1="217.3" y1="553.5" x2="515.9" y2="553.5" stroke="#555" stroke-width="1"/>
<clipPath id="c71"><rect x="219.5" y="551.02" width="296.4" height="5.2" rx="1.3"/></clipPath>
<g clip-path="url(#c71)">
<rect x="219.5" y="551.02" width="1.9" height="5.2" fill="#fcc90e"/>
<rect x="221" y="551.02" width="295.3" height="5.2" fill="#f89d1e"/>
</g>
<rect x="219.5" y="551.02" width="296.4" height="5.2" rx="1.3" fill="none" stroke="#f2a6b0" stroke-opacity="0.55" stroke-width="0.5"/>
<line x1="217.3" y1="561.5" x2="461" y2="561.5" stroke="#555" stroke-width="1"/>
<clipPath id="c72"><rect x="219" y="558.71" width="236" height="5.2" rx="1.3"/></clipPath>
<g clip-path="url(#c72)">
<rect x="219" y="558.71" width="3.4" height="5.2" fill="#ee5a7e"/>
<rect x="222" y="558.71" width="225.3" height="5.2" fill="#8f8aa8"/>
<rect x="446.9" y="558.71" width="8.5" height="5.2" fill="#fcc90e"/>
</g>
<rect x="219" y="558.71" width="236" height="5.2" rx="1.3" fill="none" stroke="#f2a6b0" stroke-opacity="0.55" stroke-width="0.5"/>
<line x1="217.3" y1="568.5" x2="560" y2="568.5" stroke="#555" stroke-width="1"/>
<clipPath id="c73"><rect x="244" y="566.4" width="311.8" height="5.2" rx="1.3"/></clipPath>
<g clip-path="url(#c73)">
<rect x="244" y="566.4" width="5.9" height="5.2" fill="#fcc90e"/>
<rect x="249.5" y="566.4" width="173" height="5.2" fill="#ee5a7e"/>
<rect x="422.1" y="566.4" width="121.3" height="5.2" fill="#f89d1e"/>
<rect x="543" y="566.4" width="3.6" height="5.2" fill="#8f8aa8"/>
<rect x="546.2" y="566.4" width="10" height="5.2" fill="#fcc90e"/>
</g>
<rect x="244" y="566.4" width="311.8" height="5.2" rx="1.3" fill="none" stroke="#f2a6b0" stroke-opacity="0.55" stroke-width="0.5"/>
<line x1="217.3" y1="576.5" x2="507" y2="576.5" stroke="#555" stroke-width="1"/>
<clipPath id="c74"><rect x="218.5" y="574.09" width="287" height="5.2" rx="1.3"/></clipPath>
<g clip-path="url(#c74)">
<rect x="218.5" y="574.09" width="1.4" height="5.2" fill="#fcc90e"/>
<rect x="219.5" y="574.09" width="205" height="5.2" fill="#f89d1e"/>
<rect x="424.1" y="574.09" width="46.1" height="5.2" fill="#8f8aa8"/>
<rect x="469.8" y="574.09" width="21.4" height="5.2" fill="#f89d1e"/>
<rect x="490.8" y="574.09" width="15.1" height="5.2" fill="#fcc90e"/>
</g>
<rect x="218.5" y="574.09" width="287" height="5.2" rx="1.3" fill="none" stroke="#f2a6b0" stroke-opacity="0.55" stroke-width="0.5"/>
<line x1="217.3" y1="584.5" x2="536" y2="584.5" stroke="#555" stroke-width="1"/>
<clipPath id="c75"><rect x="222" y="581.77" width="306" height="5.2" rx="1.3"/></clipPath>
<g clip-path="url(#c75)">
<rect x="222" y="581.77" width="2.4" height="5.2" fill="#fcc90e"/>
<rect x="224" y="581.77" width="2.4" height="5.2" fill="#ee5a7e"/>
<rect x="226" y="581.77" width="3.9" height="5.2" fill="#f89d1e"/>
<rect x="229.5" y="581.77" width="242.6" height="5.2" fill="#8f8aa8"/>
<rect x="471.7" y="581.77" width="42.6" height="5.2" fill="#f89d1e"/>
<rect x="513.9" y="581.77" width="12.3" height="5.2" fill="#ee5a7e"/>
<rect x="525.8" y="581.77" width="2.6" height="5.2" fill="#fcc90e"/>
</g>
<rect x="222" y="581.77" width="306" height="5.2" rx="1.3" fill="none" stroke="#f2a6b0" stroke-opacity="0.55" stroke-width="0.5"/>
<line x1="217.3" y1="592.5" x2="492" y2="592.5" stroke="#555" stroke-width="1"/>
<clipPath id="c76"><rect x="223.5" y="589.46" width="253.4" height="5.2" rx="1.3"/></clipPath>
<g clip-path="url(#c76)">
<rect x="223.5" y="589.46" width="241.7" height="5.2" fill="#f89d1e"/>
<rect x="464.8" y="589.46" width="12.5" height="5.2" fill="#8f8aa8"/>
</g>
<rect x="223.5" y="589.46" width="253.4" height="5.2" rx="1.3" fill="none" stroke="#f2a6b0" stroke-opacity="0.55" stroke-width="0.5"/>
<line x1="217.3" y1="599.5" x2="525" y2="599.5" stroke="#555" stroke-width="1"/>
<clipPath id="c77"><rect x="222.5" y="597.15" width="295.1" height="5.2" rx="1.3"/></clipPath>
<g clip-path="url(#c77)">
<rect x="222.5" y="597.15" width="160.8" height="5.2" fill="#ee5a7e"/>
<rect x="382.9" y="597.15" width="32.7" height="5.2" fill="#0e7f73"/>
<rect x="415.2" y="597.15" width="89.9" height="5.2" fill="#f89d1e"/>
<rect x="504.7" y="597.15" width="12.1" height="5.2" fill="#8f8aa8"/>
<rect x="516.4" y="597.15" width="1.6" height="5.2" fill="#fcc90e"/>
</g>
<rect x="222.5" y="597.15" width="295.1" height="5.2" rx="1.3" fill="none" stroke="#f2a6b0" stroke-opacity="0.55" stroke-width="0.5"/>
<line x1="217.3" y1="607.5" x2="528" y2="607.5" stroke="#555" stroke-width="1"/>
<clipPath id="c78"><rect x="220.5" y="604.84" width="300.1" height="5.2" rx="1.3"/></clipPath>
<g clip-path="url(#c78)">
<rect x="220.5" y="604.84" width="169.8" height="5.2" fill="#ee5a7e"/>
<rect x="389.9" y="604.84" width="56.7" height="5.2" fill="#f89d1e"/>
<rect x="446.2" y="604.84" width="74.8" height="5.2" fill="#8f8aa8"/>
</g>
<rect x="220.5" y="604.84" width="300.1" height="5.2" rx="1.3" fill="none" stroke="#f2a6b0" stroke-opacity="0.55" stroke-width="0.5"/>
<line x1="217.3" y1="615.5" x2="421" y2="615.5" stroke="#555" stroke-width="1"/>
<clipPath id="c79"><rect x="218.5" y="612.53" width="200.9" height="5.2" rx="1.3"/></clipPath>
<g clip-path="url(#c79)">
<rect x="218.5" y="612.53" width="65.1" height="5.2" fill="#fcc90e"/>
<rect x="283.2" y="612.53" width="58.7" height="5.2" fill="#ee5a7e"/>
<rect x="341.5" y="612.53" width="53.7" height="5.2" fill="#0e7f73"/>
<rect x="394.8" y="612.53" width="7.6" height="5.2" fill="#ee5a7e"/>
<rect x="402" y="612.53" width="17.8" height="5.2" fill="#fcc90e"/>
</g>
<rect x="218.5" y="612.53" width="200.9" height="5.2" rx="1.3" fill="none" stroke="#f2a6b0" stroke-opacity="0.55" stroke-width="0.5"/>
<line x1="217.3" y1="622.5" x2="515" y2="622.5" stroke="#555" stroke-width="1"/>
<clipPath id="c80"><rect x="224.5" y="620.22" width="288.5" height="5.2" rx="1.3"/></clipPath>
<g clip-path="url(#c80)">
<rect x="224.5" y="620.22" width="1.9" height="5.2" fill="#fcc90e"/>
<rect x="226" y="620.22" width="3.9" height="5.2" fill="#ee5a7e"/>
<rect x="229.5" y="620.22" width="109.4" height="5.2" fill="#8f8aa8"/>
<rect x="338.5" y="620.22" width="25" height="5.2" fill="#0e7f73"/>
<rect x="363.1" y="620.22" width="109.5" height="5.2" fill="#f89d1e"/>
<rect x="472.2" y="620.22" width="26.5" height="5.2" fill="#0e7f73"/>
<rect x="498.3" y="620.22" width="2.1" height="5.2" fill="#ee5a7e"/>
<rect x="500" y="620.22" width="13.4" height="5.2" fill="#fcc90e"/>
</g>
<rect x="224.5" y="620.22" width="288.5" height="5.2" rx="1.3" fill="none" stroke="#f2a6b0" stroke-opacity="0.55" stroke-width="0.5"/>
<line x1="217.3" y1="630.5" x2="466" y2="630.5" stroke="#555" stroke-width="1"/>
<clipPath id="c81"><rect x="241.5" y="627.91" width="214.6" height="5.2" rx="1.3"/></clipPath>
<g clip-path="url(#c81)">
<rect x="241.5" y="627.91" width="134.4" height="5.2" fill="#ee5a7e"/>
<rect x="375.5" y="627.91" width="56.9" height="5.2" fill="#0e7f73"/>
<rect x="432" y="627.91" width="24.5" height="5.2" fill="#ee5a7e"/>
</g>
<rect x="241.5" y="627.91" width="214.6" height="5.2" rx="1.3" fill="none" stroke="#f2a6b0" stroke-opacity="0.55" stroke-width="0.5"/>
<line x1="217.3" y1="638.5" x2="528" y2="638.5" stroke="#555" stroke-width="1"/>
<clipPath id="c82"><rect x="225" y="635.6" width="295" height="5.2" rx="1.3"/></clipPath>
<g clip-path="url(#c82)">
<rect x="225" y="635.6" width="168.5" height="5.2" fill="#f89d1e"/>
<rect x="393.1" y="635.6" width="106.8" height="5.2" fill="#0e7f73"/>
<rect x="499.5" y="635.6" width="11.6" height="5.2" fill="#8f8aa8"/>
<rect x="510.7" y="635.6" width="6.6" height="5.2" fill="#f89d1e"/>
<rect x="516.9" y="635.6" width="3.5" height="5.2" fill="#fcc90e"/>
</g>
<rect x="225" y="635.6" width="295" height="5.2" rx="1.3" fill="none" stroke="#f2a6b0" stroke-opacity="0.55" stroke-width="0.5"/>
<g font-size="7.4" fill="#1c1c1c" stroke="#1c1c1c" stroke-width="0.22" text-anchor="end">
<text transform="translate(215.2,11) scale(0.66,1)">GgUGT73AB11</text>
<text transform="translate(215.2,18.69) scale(0.66,1)">GgUGT73B34</text>
<text transform="translate(215.2,26.38) scale(0.66,1)">GgUGT72AG2</text>
<text transform="translate(215.2,34.07) scale(0.66,1)">GgUGT75L31</text>
<text transform="translate(215.2,41.76) scale(0.66,1)">GgUGT73C37</text>
<text transform="translate(215.2,49.45) scale(0.66,1)">GgUGT73C38</text>
<text transform="translate(215.2,57.13) scale(0.66,1)">GgUGT73C39</text>
<text transform="translate(215.2,64.82) scale(0.66,1)">GgUGT73B35</text>
<text transform="translate(215.2,72.51) scale(0.66,1)">GgUGT73CA1</text>
<text transform="translate(215.2,80.2) scale(0.66,1)">GgUGT88A36</text>
<text transform="translate(215.2,87.89) scale(0.66,1)">GgUGT88A37</text>
<text transform="translate(215.2,95.58) scale(0.66,1)">GgUGT88A38</text>
<text transform="translate(215.2,103.27) scale(0.66,1)">GgUGT88E27</text>
<text transform="translate(215.2,110.96) scale(0.66,1)">GgUGT88F16</text>
<text transform="translate(215.2,118.65) scale(0.66,1)">GgUGT88F17</text>
<text transform="translate(215.2,126.34) scale(0.66,1)">GgUGT73AC5</text>
<text transform="translate(215.2,134.02) scale(0.66,1)">GgUGT73P23</text>
<text transform="translate(215.2,141.71) scale(0.66,1)">GgUGT73P24</text>
<text transform="translate(215.2,149.4) scale(0.66,1)">GgUGT85K34</text>
<text transform="translate(215.2,157.09) scale(0.66,1)">GgUGT85A105</text>
<text transform="translate(215.2,164.78) scale(0.66,1)">GgUGT85H11</text>
<text transform="translate(215.2,172.47) scale(0.66,1)">GgUGT72B59</text>
<text transform="translate(215.2,180.16) scale(0.66,1)">GgUGT72BE1</text>
<text transform="translate(215.2,187.85) scale(0.66,1)">GgUGT72X7</text>
<text transform="translate(215.2,195.54) scale(0.66,1)">GgUGT72Y6</text>
<text transform="translate(215.2,203.22) scale(0.66,1)">GgUGT72Z7</text>
<text transform="translate(215.2,210.91) scale(0.66,1)">GgUGT72AH3</text>
<text transform="translate(215.2,218.6) scale(0.66,1)">GgUGT72AB4</text>
<text transform="translate(215.2,226.29) scale(0.66,1)">GgUGT72AE2</text>
<text transform="translate(215.2,233.98) scale(0.66,1)">GgUGT79B54</text>
<text transform="translate(215.2,241.67) scale(0.66,1)">GgUGT79B55</text>
<text transform="translate(215.2,249.36) scale(0.66,1)">GgUGT73P25</text>
<text transform="translate(215.2,257.05) scale(0.66,1)">GgUGT72V5</text>
<text transform="translate(215.2,264.74) scale(0.66,1)">GgUGT73F25</text>
<text transform="translate(215.2,272.43) scale(0.66,1)">GgUGT73P26</text>
<text transform="translate(215.2,280.12) scale(0.66,1)">GgUGT78K13</text>
<text transform="translate(215.2,287.8) scale(0.66,1)">GgUGT84F10</text>
<text transform="translate(215.2,295.49) scale(0.66,1)">GgUGT84F11</text>
<text transform="translate(215.2,303.18) scale(0.66,1)">GgUGT91N3</text>
<text transform="translate(215.2,310.87) scale(0.66,1)">GgUGT91R11</text>
<text transform="translate(215.2,318.56) scale(0.66,1)">GgUGT91H16</text>
<text transform="translate(215.2,326.25) scale(0.66,1)">GgUGT74K5</text>
<text transform="translate(215.2,333.94) scale(0.66,1)">GgUGT74K6</text>
<text transform="translate(215.2,341.63) scale(0.66,1)">GgUGT74K7</text>
<text transform="translate(215.2,349.32) scale(0.66,1)">GgUGT74X6</text>
<text transform="translate(215.2,357) scale(0.66,1)">GgUGT74BG1</text>
<text transform="translate(215.2,364.69) scale(0.66,1)">GgUGT708B7</text>
<text transform="translate(215.2,372.38) scale(0.66,1)">GgUGT708D7</text>
<text transform="translate(215.2,380.07) scale(0.66,1)">GgUGT71G5</text>
<text transform="translate(215.2,387.76) scale(0.66,1)">GgUGT71G6</text>
<text transform="translate(215.2,395.45) scale(0.66,1)">GgUGT80A28</text>
<text transform="translate(215.2,403.14) scale(0.66,1)">GgUGT80A30</text>
<text transform="translate(215.2,410.83) scale(0.66,1)">GgUGT80A31</text>
<text transform="translate(215.2,418.52) scale(0.66,1)">GgUGT71S6</text>
<text transform="translate(215.2,426.21) scale(0.66,1)">GgUGT71S7</text>
<text transform="translate(215.2,433.89) scale(0.66,1)">GgUGT73C40</text>
<text transform="translate(215.2,441.58) scale(0.66,1)">GgUGT74X7</text>
<text transform="translate(215.2,449.27) scale(0.66,1)">GgUGT76J6</text>
<text transform="translate(215.2,456.96) scale(0.66,1)">GgUGT84L3</text>
<text transform="translate(215.2,464.65) scale(0.66,1)">GgUGT89F3</text>
<text transform="translate(215.2,472.34) scale(0.66,1)">GgUGT79B56</text>
<text transform="translate(215.2,480.03) scale(0.66,1)">GgUGT85K35</text>
<text transform="translate(215.2,487.72) scale(0.66,1)">GgUGT709X1</text>
<text transform="translate(215.2,495.41) scale(0.66,1)">GgUGT83G10</text>
<text transform="translate(215.2,503.1) scale(0.66,1)">GgUGT83G9</text>
<text transform="translate(215.2,510.79) scale(0.66,1)">GgUGT87H7</text>
<text transform="translate(215.2,518.47) scale(0.66,1)">GgUGT72L11</text>
<text transform="translate(215.2,526.16) scale(0.66,1)">GgUGT73BV3</text>
<text transform="translate(215.2,533.85) scale(0.66,1)">GgUGT73K8</text>
<text transform="translate(215.2,541.54) scale(0.66,1)">GgUGT73F27</text>
<text transform="translate(215.2,549.23) scale(0.66,1)">GgUGT87E8</text>
<text transform="translate(215.2,556.92) scale(0.66,1)">GgUGT71T3</text>
<text transform="translate(215.2,564.61) scale(0.66,1)">GgUGT73F28</text>
<text transform="translate(215.2,572.3) scale(0.66,1)">GgUGT92G10</text>
<text transform="translate(215.2,579.99) scale(0.66,1)">GgUGT89D21</text>
<text transform="translate(215.2,587.67) scale(0.66,1)">GgUGT73P27</text>
<text transform="translate(215.2,595.36) scale(0.66,1)">GgUGT73F26</text>
<text transform="translate(215.2,603.05) scale(0.66,1)">GgUGT92A11</text>
<text transform="translate(215.2,610.74) scale(0.66,1)">GgUGT95B14</text>
<text transform="translate(215.2,618.43) scale(0.66,1)">GgUGT79B57</text>
<text transform="translate(215.2,626.12) scale(0.66,1)">GgUGT79A17</text>
<text transform="translate(215.2,633.81) scale(0.66,1)">GgUGT93A13</text>
<text transform="translate(215.2,641.5) scale(0.66,1)">GgUGT708D6</text>
</g>
<text transform="translate(216.6,645.6) scale(0.75,1)" font-size="6.8" fill="#333" text-anchor="end">5</text>
<line x1="216.8" y1="645.5" x2="562.5" y2="645.5" stroke="#666" stroke-width="1.1"/>
<g font-size="8.2" fill="#222" text-anchor="middle">
<text transform="translate(217.4,653.8) scale(0.64,1)">0</text>
<text transform="translate(281.2,653.8) scale(0.64,1)">100</text>
<text transform="translate(345,653.8) scale(0.64,1)">200</text>
<text transform="translate(408.8,653.8) scale(0.64,1)">300</text>
<text transform="translate(472.6,653.8) scale(0.64,1)">400</text>
<text transform="translate(536.4,653.8) scale(0.64,1)">500</text>
</g>
<text x="363.6" y="662.4" font-size="8.4" font-weight="bold" textLength="77.4" lengthAdjust="spacingAndGlyphs" fill="#1c1c1c">No. of amino acids</text>
<text transform="translate(178.3,277) rotate(-90)" font-size="8.8" font-weight="bold" text-anchor="middle" fill="#222">GgUGTs</text>
<text x="213.2" y="664.6" font-size="8.5" font-weight="bold" fill="#222">b</text>
<rect x="533.8" y="40.3" width="30.3" height="7" rx="2" fill="#6cb23f"/>
<text transform="translate(569.6,47.7) scale(0.615,1)" font-size="10" fill="#1c1c1c" stroke="#1c1c1c" stroke-width="0.2">PLN02534</text>
<rect x="533.8" y="51.1" width="30.3" height="7" rx="2" fill="#fcc90e"/>
<text x="569.6" y="58.5" font-size="10" textLength="114.2" lengthAdjust="spacingAndGlyphs" fill="#1c1c1c" stroke="#1c1c1c" stroke-width="0.2">Glycosyltransferase_GTB-type superfamily</text>
<rect x="533.8" y="61.9" width="30.3" height="7" rx="2" fill="#ee5a7e"/>
<text transform="translate(569.6,69.3) scale(0.615,1)" font-size="10" fill="#1c1c1c" stroke="#1c1c1c" stroke-width="0.2">GT1_Gtf-like</text>
<rect x="533.8" y="72.7" width="30.3" height="7" rx="2" fill="#0e7f73"/>
<text transform="translate(569.6,80.1) scale(0.615,1)" font-size="10" fill="#1c1c1c" stroke="#1c1c1c" stroke-width="0.2">UDPGT</text>
<rect x="533.8" y="83.5" width="30.3" height="7" rx="2" fill="#e8001c"/>
<text transform="translate(569.6,90.9) scale(0.615,1)" font-size="10" fill="#1c1c1c" stroke="#1c1c1c" stroke-width="0.2">MGT</text>
<rect x="533.8" y="94.3" width="30.3" height="7" rx="2" fill="#8f8aa8"/>
<text transform="translate(569.6,101.7) scale(0.615,1)" font-size="10" fill="#1c1c1c" stroke="#1c1c1c" stroke-width="0.2">MGT superfamily</text>
<rect x="533.8" y="105.1" width="30.3" height="7" rx="2" fill="#a6d47c"/>
<text transform="translate(569.6,112.5) scale(0.615,1)" font-size="10" fill="#1c1c1c" stroke="#1c1c1c" stroke-width="0.2">YjiC</text>
<rect x="533.8" y="115.9" width="30.3" height="7" rx="2" fill="#f89d1e"/>
<text transform="translate(569.6,123.3) scale(0.615,1)" font-size="10" fill="#1c1c1c" stroke="#1c1c1c" stroke-width="0.2">YjiC superfamily</text>
<rect x="533.8" y="126.7" width="30.3" height="7" rx="2" fill="#5a3f8c"/>
<text transform="translate(569.6,134.1) scale(0.615,1)" font-size="10" fill="#1c1c1c" stroke="#1c1c1c" stroke-width="0.2">PLN03007</text>
<rect x="533.8" y="137.5" width="30.3" height="7" rx="2" fill="#f9bb8c"/>
<text transform="translate(569.6,144.9) scale(0.615,1)" font-size="10" fill="#1c1c1c" stroke="#1c1c1c" stroke-width="0.2">PLN02992</text>
<rect x="533.8" y="148.3" width="30.3" height="7" rx="2" fill="#7b8a6c"/>
<text transform="translate(569.6,155.7) scale(0.615,1)" font-size="10" fill="#1c1c1c" stroke="#1c1c1c" stroke-width="0.2">PLN02152</text>
<rect x="533.8" y="159.1" width="30.3" height="7" rx="2" fill="#c4532c"/>
<text transform="translate(569.6,166.5) scale(0.615,1)" font-size="10" fill="#1c1c1c" stroke="#1c1c1c" stroke-width="0.2">PLN03004</text>
<rect x="533.8" y="169.9" width="30.3" height="7" rx="2" fill="#52bf88"/>
<text transform="translate(569.6,177.3) scale(0.615,1)" font-size="10" fill="#1c1c1c" stroke="#1c1c1c" stroke-width="0.2">PLN00164</text>
<rect x="533.8" y="180.7" width="30.3" height="7" rx="2" fill="#ef8aa4"/>
<text transform="translate(569.6,188.1) scale(0.615,1)" font-size="10" fill="#1c1c1c" stroke="#1c1c1c" stroke-width="0.2">PLN02410</text>
<rect x="533.8" y="191.5" width="30.3" height="7" rx="2" fill="#1664c6"/>
<text transform="translate(569.6,198.9) scale(0.615,1)" font-size="10" fill="#1c1c1c" stroke="#1c1c1c" stroke-width="0.2">PLN02448</text>
<rect x="533.8" y="202.3" width="30.3" height="7" rx="2" fill="#c4000e"/>
<text transform="translate(569.6,209.7) scale(0.615,1)" font-size="10" fill="#1c1c1c" stroke="#1c1c1c" stroke-width="0.2">PLN03015</text>
<rect x="533.8" y="213.1" width="30.3" height="7" rx="2" fill="#5a0006"/>
<text transform="translate(569.6,220.5) scale(0.615,1)" font-size="10" fill="#1c1c1c" stroke="#1c1c1c" stroke-width="0.2">PLN02208</text>
<rect x="533.8" y="223.9" width="30.3" height="7" rx="2" fill="#6a7c22"/>
<text transform="translate(569.6,231.3) scale(0.615,1)" font-size="10" fill="#1c1c1c" stroke="#1c1c1c" stroke-width="0.2">PLN02555</text>
<rect x="533.8" y="234.7" width="30.3" height="7" rx="2" fill="#0a1040"/>
<text transform="translate(569.6,242.1) scale(0.615,1)" font-size="10" fill="#1c1c1c" stroke="#1c1c1c" stroke-width="0.2">PLN02670</text>
<rect x="533.8" y="245.5" width="30.3" height="7" rx="2" fill="#a5703c"/>
<text transform="translate(569.6,252.9) scale(0.615,1)" font-size="10" fill="#1c1c1c" stroke="#1c1c1c" stroke-width="0.2">PLN02173</text>
<rect x="533.8" y="256.3" width="30.3" height="7" rx="2" fill="#10b0ee"/>
<text transform="translate(569.6,263.7) scale(0.615,1)" font-size="10" fill="#1c1c1c" stroke="#1c1c1c" stroke-width="0.2">PLN02167</text>
<rect x="533.8" y="267.1" width="30.3" height="7" rx="2" fill="#2333ee"/>
<text transform="translate(569.6,274.5) scale(0.615,1)" font-size="10" fill="#1c1c1c" stroke="#1c1c1c" stroke-width="0.2">Glyco_transf_28</text>
<rect x="533.8" y="277.9" width="30.3" height="7" rx="2" fill="#1a5a12"/>
<text transform="translate(569.6,285.3) scale(0.615,1)" font-size="10" fill="#1c1c1c" stroke="#1c1c1c" stroke-width="0.2">PLN02554</text>
<rect x="533.8" y="288.7" width="30.3" height="7" rx="2" fill="#e05a50"/>
<text transform="translate(569.6,296.1) scale(0.615,1)" font-size="10" fill="#1c1c1c" stroke="#1c1c1c" stroke-width="0.2">PLN02210</text>
<rect x="533.8" y="299.5" width="30.3" height="7" rx="2" fill="#1072b8"/>
<text transform="translate(569.6,306.9) scale(0.615,1)" font-size="10" fill="#1c1c1c" stroke="#1c1c1c" stroke-width="0.2">PLN02863</text>
<rect x="533.8" y="310.3" width="30.3" height="7" rx="2" fill="#e043b4"/>
<text transform="translate(569.6,317.7) scale(0.615,1)" font-size="10" fill="#1c1c1c" stroke="#1c1c1c" stroke-width="0.2">PLN00414</text>
<rect x="533.8" y="321.1" width="30.3" height="7" rx="2" fill="#52cf8b"/>
<text transform="translate(569.6,328.5) scale(0.615,1)" font-size="10" fill="#1c1c1c" stroke="#1c1c1c" stroke-width="0.2">PLN02562</text>
</g>
</svg></body></html>
